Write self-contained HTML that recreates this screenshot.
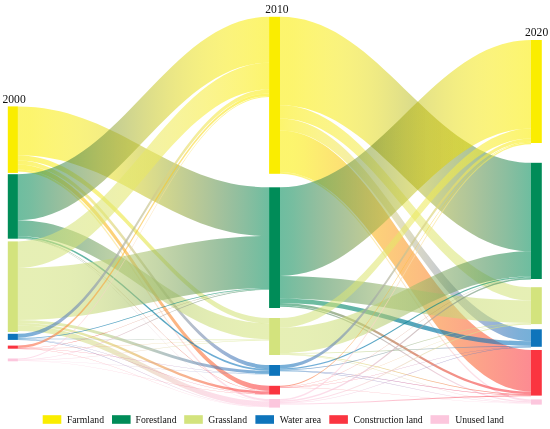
<!DOCTYPE html>
<html lang="en"><head><meta charset="utf-8"><title>Land use transfer Sankey 2000-2010-2020</title>
<style>
html,body{margin:0;padding:0;background:#fff}
body{width:550px;height:429px;overflow:hidden}
svg{display:block}
path.m{mix-blend-mode:multiply}
text.lg{font-size:9.7px}
text{font-family:"Liberation Serif","Times New Roman",serif;font-size:11.6px;fill:#111}
</style></head><body>
<svg width="550" height="429" viewBox="0 0 550 429">
<defs>
<linearGradient id="g1" gradientUnits="userSpaceOnUse" x1="17.9" y1="0" x2="269.1" y2="0"><stop offset="0" stop-color="#faed00" stop-opacity="0.814"/><stop offset="0.05" stop-color="#faed00" stop-opacity="0.814"/><stop offset="0.1" stop-color="#faed0a" stop-opacity="0.815"/><stop offset="0.15" stop-color="#f9ec13" stop-opacity="0.817"/><stop offset="0.2" stop-color="#f7eb1c" stop-opacity="0.824"/><stop offset="0.25" stop-color="#f4e924" stop-opacity="0.834"/><stop offset="0.3" stop-color="#f0e52b" stop-opacity="0.848"/><stop offset="0.35" stop-color="#eae132" stop-opacity="0.863"/><stop offset="0.4" stop-color="#e2db38" stop-opacity="0.878"/><stop offset="0.45" stop-color="#d8d43e" stop-opacity="0.889"/><stop offset="0.5" stop-color="#cdcc43" stop-opacity="0.895"/><stop offset="0.55" stop-color="#c0c448" stop-opacity="0.895"/><stop offset="0.6" stop-color="#b1bb4c" stop-opacity="0.889"/><stop offset="0.65" stop-color="#a0b14f" stop-opacity="0.878"/><stop offset="0.7" stop-color="#8ea752" stop-opacity="0.863"/><stop offset="0.75" stop-color="#7b9f54" stop-opacity="0.848"/><stop offset="0.8" stop-color="#659756" stop-opacity="0.834"/><stop offset="0.85" stop-color="#4e9157" stop-opacity="0.824"/><stop offset="0.9" stop-color="#368e58" stop-opacity="0.817"/><stop offset="0.95" stop-color="#1c8c58" stop-opacity="0.815"/><stop offset="1" stop-color="#008c58" stop-opacity="0.814"/></linearGradient>
<linearGradient id="g2" gradientUnits="userSpaceOnUse" x1="17.9" y1="0" x2="269.1" y2="0"><stop offset="0" stop-color="#faed00" stop-opacity="0.814"/><stop offset="0.05" stop-color="#faed0d" stop-opacity="0.815"/><stop offset="0.1" stop-color="#faed1a" stop-opacity="0.82"/><stop offset="0.15" stop-color="#f9ed25" stop-opacity="0.833"/><stop offset="0.2" stop-color="#f8ec30" stop-opacity="0.853"/><stop offset="0.25" stop-color="#f7ec3b" stop-opacity="0.881"/><stop offset="0.3" stop-color="#f4eb44" stop-opacity="0.912"/><stop offset="0.35" stop-color="#f2eb4d" stop-opacity="0.943"/><stop offset="0.4" stop-color="#efea55" stop-opacity="0.97"/><stop offset="0.45" stop-color="#ece95d" stop-opacity="0.987"/><stop offset="0.5" stop-color="#e8e863" stop-opacity="0.993"/><stop offset="0.55" stop-color="#e4e769" stop-opacity="0.987"/><stop offset="0.6" stop-color="#e1e66e" stop-opacity="0.97"/><stop offset="0.65" stop-color="#dde572" stop-opacity="0.943"/><stop offset="0.7" stop-color="#dae576" stop-opacity="0.912"/><stop offset="0.75" stop-color="#d8e479" stop-opacity="0.881"/><stop offset="0.8" stop-color="#d6e47b" stop-opacity="0.853"/><stop offset="0.85" stop-color="#d4e37c" stop-opacity="0.833"/><stop offset="0.9" stop-color="#d3e37d" stop-opacity="0.82"/><stop offset="0.95" stop-color="#d3e37d" stop-opacity="0.815"/><stop offset="1" stop-color="#d3e37d" stop-opacity="0.814"/></linearGradient>
<linearGradient id="g3" gradientUnits="userSpaceOnUse" x1="17.9" y1="0" x2="269.1" y2="0"><stop offset="0" stop-color="#faed00" stop-opacity="0.814"/><stop offset="0.05" stop-color="#faed14" stop-opacity="0.815"/><stop offset="0.1" stop-color="#f9ec26" stop-opacity="0.82"/><stop offset="0.15" stop-color="#f8eb38" stop-opacity="0.833"/><stop offset="0.2" stop-color="#f5e948" stop-opacity="0.853"/><stop offset="0.25" stop-color="#f1e658" stop-opacity="0.881"/><stop offset="0.3" stop-color="#ece166" stop-opacity="0.912"/><stop offset="0.35" stop-color="#e5db73" stop-opacity="0.943"/><stop offset="0.4" stop-color="#dcd480" stop-opacity="0.97"/><stop offset="0.45" stop-color="#d2cc8b" stop-opacity="0.987"/><stop offset="0.5" stop-color="#c6c394" stop-opacity="0.993"/><stop offset="0.55" stop-color="#b9b99d" stop-opacity="0.987"/><stop offset="0.6" stop-color="#abaea5" stop-opacity="0.97"/><stop offset="0.65" stop-color="#9aa3ab" stop-opacity="0.943"/><stop offset="0.7" stop-color="#8998b0" stop-opacity="0.912"/><stop offset="0.75" stop-color="#758db4" stop-opacity="0.881"/><stop offset="0.8" stop-color="#6183b7" stop-opacity="0.853"/><stop offset="0.85" stop-color="#4b7bb9" stop-opacity="0.833"/><stop offset="0.9" stop-color="#3376ba" stop-opacity="0.82"/><stop offset="0.95" stop-color="#1c74bb" stop-opacity="0.815"/><stop offset="1" stop-color="#0e74bb" stop-opacity="0.814"/></linearGradient>
<linearGradient id="g4" gradientUnits="userSpaceOnUse" x1="17.9" y1="0" x2="269.1" y2="0"><stop offset="0" stop-color="#faed00" stop-opacity="0.814"/><stop offset="0.05" stop-color="#faed00" stop-opacity="0.814"/><stop offset="0.1" stop-color="#fae702" stop-opacity="0.814"/><stop offset="0.15" stop-color="#fadd06" stop-opacity="0.814"/><stop offset="0.2" stop-color="#fad309" stop-opacity="0.814"/><stop offset="0.25" stop-color="#fac90c" stop-opacity="0.814"/><stop offset="0.3" stop-color="#fabf10" stop-opacity="0.814"/><stop offset="0.35" stop-color="#fab513" stop-opacity="0.814"/><stop offset="0.4" stop-color="#faab17" stop-opacity="0.814"/><stop offset="0.45" stop-color="#faa11a" stop-opacity="0.814"/><stop offset="0.5" stop-color="#fa971e" stop-opacity="0.814"/><stop offset="0.55" stop-color="#fa8e21" stop-opacity="0.814"/><stop offset="0.6" stop-color="#fa8424" stop-opacity="0.814"/><stop offset="0.65" stop-color="#fa7a28" stop-opacity="0.814"/><stop offset="0.7" stop-color="#fa702b" stop-opacity="0.814"/><stop offset="0.75" stop-color="#fa662f" stop-opacity="0.814"/><stop offset="0.8" stop-color="#fa5c32" stop-opacity="0.814"/><stop offset="0.85" stop-color="#fa5236" stop-opacity="0.814"/><stop offset="0.9" stop-color="#fa4839" stop-opacity="0.814"/><stop offset="0.95" stop-color="#fa3e3d" stop-opacity="0.814"/><stop offset="1" stop-color="#fa3440" stop-opacity="0.814"/></linearGradient>
<linearGradient id="g5" gradientUnits="userSpaceOnUse" x1="17.9" y1="0" x2="269.1" y2="0"><stop offset="0" stop-color="#faed00" stop-opacity="0.814"/><stop offset="0.05" stop-color="#faed17" stop-opacity="0.815"/><stop offset="0.1" stop-color="#faed2d" stop-opacity="0.82"/><stop offset="0.15" stop-color="#faec42" stop-opacity="0.833"/><stop offset="0.2" stop-color="#faeb56" stop-opacity="0.853"/><stop offset="0.25" stop-color="#faea68" stop-opacity="0.881"/><stop offset="0.3" stop-color="#fae879" stop-opacity="0.912"/><stop offset="0.35" stop-color="#fae588" stop-opacity="0.943"/><stop offset="0.4" stop-color="#fbe297" stop-opacity="0.97"/><stop offset="0.45" stop-color="#fbdfa4" stop-opacity="0.987"/><stop offset="0.5" stop-color="#fbdbaf" stop-opacity="0.993"/><stop offset="0.55" stop-color="#fbd8ba" stop-opacity="0.987"/><stop offset="0.6" stop-color="#fbd4c3" stop-opacity="0.97"/><stop offset="0.65" stop-color="#fcd1ca" stop-opacity="0.943"/><stop offset="0.7" stop-color="#fccdd0" stop-opacity="0.912"/><stop offset="0.75" stop-color="#fccbd5" stop-opacity="0.881"/><stop offset="0.8" stop-color="#fcc9d9" stop-opacity="0.853"/><stop offset="0.85" stop-color="#fcc7db" stop-opacity="0.833"/><stop offset="0.9" stop-color="#fcc6dc" stop-opacity="0.82"/><stop offset="0.95" stop-color="#fcc6dd" stop-opacity="0.815"/><stop offset="1" stop-color="#fcc6dd" stop-opacity="0.814"/></linearGradient>
<linearGradient id="g6" gradientUnits="userSpaceOnUse" x1="17.9" y1="0" x2="269.1" y2="0"><stop offset="0" stop-color="#008c58" stop-opacity="0.814"/><stop offset="0.05" stop-color="#108c58" stop-opacity="0.814"/><stop offset="0.1" stop-color="#2a8d58" stop-opacity="0.816"/><stop offset="0.15" stop-color="#438f57" stop-opacity="0.82"/><stop offset="0.2" stop-color="#5a9457" stop-opacity="0.829"/><stop offset="0.25" stop-color="#6f9a55" stop-opacity="0.84"/><stop offset="0.3" stop-color="#83a254" stop-opacity="0.855"/><stop offset="0.35" stop-color="#96ab51" stop-opacity="0.869"/><stop offset="0.4" stop-color="#a7b44e" stop-opacity="0.882"/><stop offset="0.45" stop-color="#b6be4b" stop-opacity="0.892"/><stop offset="0.5" stop-color="#c4c747" stop-opacity="0.896"/><stop offset="0.55" stop-color="#d0cf42" stop-opacity="0.894"/><stop offset="0.6" stop-color="#dbd63d" stop-opacity="0.886"/><stop offset="0.65" stop-color="#e4dc37" stop-opacity="0.875"/><stop offset="0.7" stop-color="#ebe231" stop-opacity="0.861"/><stop offset="0.75" stop-color="#f1e62a" stop-opacity="0.846"/><stop offset="0.8" stop-color="#f5e923" stop-opacity="0.833"/><stop offset="0.85" stop-color="#f8eb1b" stop-opacity="0.823"/><stop offset="0.9" stop-color="#f9ec12" stop-opacity="0.817"/><stop offset="0.95" stop-color="#faed09" stop-opacity="0.815"/><stop offset="1" stop-color="#faed00" stop-opacity="0.814"/></linearGradient>
<linearGradient id="g7" gradientUnits="userSpaceOnUse" x1="17.9" y1="0" x2="269.1" y2="0"><stop offset="0" stop-color="#008c58" stop-opacity="0.814"/><stop offset="0.05" stop-color="#168c58" stop-opacity="0.814"/><stop offset="0.1" stop-color="#2b8d58" stop-opacity="0.814"/><stop offset="0.15" stop-color="#3f9059" stop-opacity="0.814"/><stop offset="0.2" stop-color="#52945b" stop-opacity="0.814"/><stop offset="0.25" stop-color="#639a5d" stop-opacity="0.814"/><stop offset="0.3" stop-color="#73a160" stop-opacity="0.814"/><stop offset="0.35" stop-color="#82a963" stop-opacity="0.814"/><stop offset="0.4" stop-color="#90b167" stop-opacity="0.814"/><stop offset="0.45" stop-color="#9cba6a" stop-opacity="0.814"/><stop offset="0.5" stop-color="#a7c16e" stop-opacity="0.814"/><stop offset="0.55" stop-color="#b1c871" stop-opacity="0.814"/><stop offset="0.6" stop-color="#bacf74" stop-opacity="0.814"/><stop offset="0.65" stop-color="#c1d476" stop-opacity="0.814"/><stop offset="0.7" stop-color="#c7d978" stop-opacity="0.814"/><stop offset="0.75" stop-color="#cbdd7a" stop-opacity="0.814"/><stop offset="0.8" stop-color="#cfe07b" stop-opacity="0.814"/><stop offset="0.85" stop-color="#d1e17c" stop-opacity="0.814"/><stop offset="0.9" stop-color="#d2e37d" stop-opacity="0.814"/><stop offset="0.95" stop-color="#d3e37d" stop-opacity="0.814"/><stop offset="1" stop-color="#d3e37d" stop-opacity="0.814"/></linearGradient>
<linearGradient id="g8" gradientUnits="userSpaceOnUse" x1="17.9" y1="0" x2="269.1" y2="0"><stop offset="0" stop-color="#008c58" stop-opacity="0.814"/><stop offset="0.05" stop-color="#018c58" stop-opacity="0.815"/><stop offset="0.1" stop-color="#038c5a" stop-opacity="0.82"/><stop offset="0.15" stop-color="#048b5e" stop-opacity="0.833"/><stop offset="0.2" stop-color="#058b65" stop-opacity="0.853"/><stop offset="0.25" stop-color="#078a6d" stop-opacity="0.881"/><stop offset="0.3" stop-color="#088976" stop-opacity="0.912"/><stop offset="0.35" stop-color="#09877f" stop-opacity="0.943"/><stop offset="0.4" stop-color="#0a8588" stop-opacity="0.97"/><stop offset="0.45" stop-color="#0a8391" stop-opacity="0.987"/><stop offset="0.5" stop-color="#0b8199" stop-opacity="0.993"/><stop offset="0.55" stop-color="#0c7fa1" stop-opacity="0.987"/><stop offset="0.6" stop-color="#0c7da7" stop-opacity="0.97"/><stop offset="0.65" stop-color="#0d7bad" stop-opacity="0.943"/><stop offset="0.7" stop-color="#0d79b1" stop-opacity="0.912"/><stop offset="0.75" stop-color="#0d77b5" stop-opacity="0.881"/><stop offset="0.8" stop-color="#0e76b8" stop-opacity="0.853"/><stop offset="0.85" stop-color="#0e75ba" stop-opacity="0.833"/><stop offset="0.9" stop-color="#0e74bb" stop-opacity="0.82"/><stop offset="0.95" stop-color="#0e74bb" stop-opacity="0.815"/><stop offset="1" stop-color="#0e74bb" stop-opacity="0.814"/></linearGradient>
<linearGradient id="g9" gradientUnits="userSpaceOnUse" x1="17.9" y1="0" x2="269.1" y2="0"><stop offset="0" stop-color="#008c58" stop-opacity="0.814"/><stop offset="0.05" stop-color="#1a8c58" stop-opacity="0.815"/><stop offset="0.1" stop-color="#338c58" stop-opacity="0.82"/><stop offset="0.15" stop-color="#4b8b58" stop-opacity="0.833"/><stop offset="0.2" stop-color="#618957" stop-opacity="0.853"/><stop offset="0.25" stop-color="#758756" stop-opacity="0.881"/><stop offset="0.3" stop-color="#898455" stop-opacity="0.912"/><stop offset="0.35" stop-color="#9a8154" stop-opacity="0.943"/><stop offset="0.4" stop-color="#ab7c52" stop-opacity="0.97"/><stop offset="0.45" stop-color="#b97750" stop-opacity="0.987"/><stop offset="0.5" stop-color="#c6714e" stop-opacity="0.993"/><stop offset="0.55" stop-color="#d26a4c" stop-opacity="0.987"/><stop offset="0.6" stop-color="#dc6349" stop-opacity="0.97"/><stop offset="0.65" stop-color="#e55b47" stop-opacity="0.943"/><stop offset="0.7" stop-color="#ec5345" stop-opacity="0.912"/><stop offset="0.75" stop-color="#f14a43" stop-opacity="0.881"/><stop offset="0.8" stop-color="#f54242" stop-opacity="0.853"/><stop offset="0.85" stop-color="#f83b41" stop-opacity="0.833"/><stop offset="0.9" stop-color="#f93740" stop-opacity="0.82"/><stop offset="0.95" stop-color="#fa3440" stop-opacity="0.815"/><stop offset="1" stop-color="#fa3440" stop-opacity="0.814"/></linearGradient>
<linearGradient id="g10" gradientUnits="userSpaceOnUse" x1="17.9" y1="0" x2="269.1" y2="0"><stop offset="0" stop-color="#008c58" stop-opacity="0.814"/><stop offset="0.05" stop-color="#1a8c59" stop-opacity="0.815"/><stop offset="0.1" stop-color="#348d5c" stop-opacity="0.82"/><stop offset="0.15" stop-color="#4b8e62" stop-opacity="0.833"/><stop offset="0.2" stop-color="#62916c" stop-opacity="0.853"/><stop offset="0.25" stop-color="#769478" stop-opacity="0.881"/><stop offset="0.3" stop-color="#8a9985" stop-opacity="0.912"/><stop offset="0.35" stop-color="#9c9e91" stop-opacity="0.943"/><stop offset="0.4" stop-color="#aca39d" stop-opacity="0.97"/><stop offset="0.45" stop-color="#bba9a9" stop-opacity="0.987"/><stop offset="0.5" stop-color="#c8aeb3" stop-opacity="0.993"/><stop offset="0.55" stop-color="#d4b3bc" stop-opacity="0.987"/><stop offset="0.6" stop-color="#deb7c4" stop-opacity="0.97"/><stop offset="0.65" stop-color="#e6bbcb" stop-opacity="0.943"/><stop offset="0.7" stop-color="#edbfd1" stop-opacity="0.912"/><stop offset="0.75" stop-color="#f3c1d6" stop-opacity="0.881"/><stop offset="0.8" stop-color="#f7c3d9" stop-opacity="0.853"/><stop offset="0.85" stop-color="#fac5db" stop-opacity="0.833"/><stop offset="0.9" stop-color="#fbc6dc" stop-opacity="0.82"/><stop offset="0.95" stop-color="#fcc6dd" stop-opacity="0.815"/><stop offset="1" stop-color="#fcc6dd" stop-opacity="0.814"/></linearGradient>
<linearGradient id="g11" gradientUnits="userSpaceOnUse" x1="17.9" y1="0" x2="269.1" y2="0"><stop offset="0" stop-color="#d3e37d" stop-opacity="0.814"/><stop offset="0.05" stop-color="#d3e37d" stop-opacity="0.814"/><stop offset="0.1" stop-color="#d3e37d" stop-opacity="0.814"/><stop offset="0.15" stop-color="#d4e37c" stop-opacity="0.814"/><stop offset="0.2" stop-color="#d6e47b" stop-opacity="0.814"/><stop offset="0.25" stop-color="#d8e479" stop-opacity="0.814"/><stop offset="0.3" stop-color="#dae576" stop-opacity="0.814"/><stop offset="0.35" stop-color="#dde572" stop-opacity="0.814"/><stop offset="0.4" stop-color="#e1e66e" stop-opacity="0.814"/><stop offset="0.45" stop-color="#e4e769" stop-opacity="0.814"/><stop offset="0.5" stop-color="#e8e863" stop-opacity="0.814"/><stop offset="0.55" stop-color="#ece95d" stop-opacity="0.814"/><stop offset="0.6" stop-color="#efea55" stop-opacity="0.814"/><stop offset="0.65" stop-color="#f2eb4d" stop-opacity="0.814"/><stop offset="0.7" stop-color="#f4eb44" stop-opacity="0.814"/><stop offset="0.75" stop-color="#f7ec3b" stop-opacity="0.814"/><stop offset="0.8" stop-color="#f8ec30" stop-opacity="0.814"/><stop offset="0.85" stop-color="#f9ed25" stop-opacity="0.814"/><stop offset="0.9" stop-color="#faed1a" stop-opacity="0.814"/><stop offset="0.95" stop-color="#faed0d" stop-opacity="0.814"/><stop offset="1" stop-color="#faed00" stop-opacity="0.814"/></linearGradient>
<linearGradient id="g12" gradientUnits="userSpaceOnUse" x1="17.9" y1="0" x2="269.1" y2="0"><stop offset="0" stop-color="#d3e37d" stop-opacity="0.814"/><stop offset="0.05" stop-color="#d3e37d" stop-opacity="0.814"/><stop offset="0.1" stop-color="#d2e37d" stop-opacity="0.814"/><stop offset="0.15" stop-color="#d1e17c" stop-opacity="0.814"/><stop offset="0.2" stop-color="#cfe07b" stop-opacity="0.814"/><stop offset="0.25" stop-color="#cbdd7a" stop-opacity="0.814"/><stop offset="0.3" stop-color="#c7d978" stop-opacity="0.814"/><stop offset="0.35" stop-color="#c1d476" stop-opacity="0.814"/><stop offset="0.4" stop-color="#bacf74" stop-opacity="0.814"/><stop offset="0.45" stop-color="#b1c871" stop-opacity="0.814"/><stop offset="0.5" stop-color="#a7c16e" stop-opacity="0.814"/><stop offset="0.55" stop-color="#9cba6a" stop-opacity="0.814"/><stop offset="0.6" stop-color="#90b167" stop-opacity="0.814"/><stop offset="0.65" stop-color="#82a963" stop-opacity="0.814"/><stop offset="0.7" stop-color="#73a160" stop-opacity="0.814"/><stop offset="0.75" stop-color="#639a5d" stop-opacity="0.814"/><stop offset="0.8" stop-color="#52945b" stop-opacity="0.814"/><stop offset="0.85" stop-color="#3f9059" stop-opacity="0.814"/><stop offset="0.9" stop-color="#2b8d58" stop-opacity="0.814"/><stop offset="0.95" stop-color="#168c58" stop-opacity="0.814"/><stop offset="1" stop-color="#008c58" stop-opacity="0.814"/></linearGradient>
<linearGradient id="g13" gradientUnits="userSpaceOnUse" x1="17.9" y1="0" x2="269.1" y2="0"><stop offset="0" stop-color="#d3e37d" stop-opacity="0.814"/><stop offset="0.05" stop-color="#d3e37d" stop-opacity="0.815"/><stop offset="0.1" stop-color="#d2e27e" stop-opacity="0.82"/><stop offset="0.15" stop-color="#d1e180" stop-opacity="0.833"/><stop offset="0.2" stop-color="#cfdf82" stop-opacity="0.853"/><stop offset="0.25" stop-color="#cbdc86" stop-opacity="0.881"/><stop offset="0.3" stop-color="#c7d88b" stop-opacity="0.912"/><stop offset="0.35" stop-color="#c1d291" stop-opacity="0.943"/><stop offset="0.4" stop-color="#bacc97" stop-opacity="0.97"/><stop offset="0.45" stop-color="#b1c49c" stop-opacity="0.987"/><stop offset="0.5" stop-color="#a7bca2" stop-opacity="0.993"/><stop offset="0.55" stop-color="#9cb2a7" stop-opacity="0.987"/><stop offset="0.6" stop-color="#90a8ac" stop-opacity="0.97"/><stop offset="0.65" stop-color="#829eb0" stop-opacity="0.943"/><stop offset="0.7" stop-color="#7394b4" stop-opacity="0.912"/><stop offset="0.75" stop-color="#638ab6" stop-opacity="0.881"/><stop offset="0.8" stop-color="#5281b8" stop-opacity="0.853"/><stop offset="0.85" stop-color="#3f7aba" stop-opacity="0.833"/><stop offset="0.9" stop-color="#2c76bb" stop-opacity="0.82"/><stop offset="0.95" stop-color="#1874bb" stop-opacity="0.815"/><stop offset="1" stop-color="#0e74bb" stop-opacity="0.814"/></linearGradient>
<linearGradient id="g14" gradientUnits="userSpaceOnUse" x1="17.9" y1="0" x2="269.1" y2="0"><stop offset="0" stop-color="#d3e37d" stop-opacity="0.814"/><stop offset="0.05" stop-color="#d3e37d" stop-opacity="0.815"/><stop offset="0.1" stop-color="#d3e27d" stop-opacity="0.82"/><stop offset="0.15" stop-color="#d4e17c" stop-opacity="0.833"/><stop offset="0.2" stop-color="#d6df7b" stop-opacity="0.853"/><stop offset="0.25" stop-color="#d8db79" stop-opacity="0.881"/><stop offset="0.3" stop-color="#dad677" stop-opacity="0.912"/><stop offset="0.35" stop-color="#ddd074" stop-opacity="0.943"/><stop offset="0.4" stop-color="#e1c870" stop-opacity="0.97"/><stop offset="0.45" stop-color="#e4bf6c" stop-opacity="0.987"/><stop offset="0.5" stop-color="#e8b567" stop-opacity="0.993"/><stop offset="0.55" stop-color="#eca962" stop-opacity="0.987"/><stop offset="0.6" stop-color="#ef9c5d" stop-opacity="0.97"/><stop offset="0.65" stop-color="#f28e57" stop-opacity="0.943"/><stop offset="0.7" stop-color="#f47f51" stop-opacity="0.912"/><stop offset="0.75" stop-color="#f76e4c" stop-opacity="0.881"/><stop offset="0.8" stop-color="#f85d47" stop-opacity="0.853"/><stop offset="0.85" stop-color="#f94d43" stop-opacity="0.833"/><stop offset="0.9" stop-color="#fa3e41" stop-opacity="0.82"/><stop offset="0.95" stop-color="#fa3640" stop-opacity="0.815"/><stop offset="1" stop-color="#fa3440" stop-opacity="0.814"/></linearGradient>
<linearGradient id="g15" gradientUnits="userSpaceOnUse" x1="17.9" y1="0" x2="269.1" y2="0"><stop offset="0" stop-color="#d3e37d" stop-opacity="0.814"/><stop offset="0.05" stop-color="#d3e37d" stop-opacity="0.815"/><stop offset="0.1" stop-color="#d3e37f" stop-opacity="0.82"/><stop offset="0.15" stop-color="#d4e282" stop-opacity="0.833"/><stop offset="0.2" stop-color="#d6e287" stop-opacity="0.853"/><stop offset="0.25" stop-color="#d8e08e" stop-opacity="0.881"/><stop offset="0.3" stop-color="#dbdf96" stop-opacity="0.912"/><stop offset="0.35" stop-color="#dedd9f" stop-opacity="0.943"/><stop offset="0.4" stop-color="#e2dba8" stop-opacity="0.97"/><stop offset="0.45" stop-color="#e5d8b1" stop-opacity="0.987"/><stop offset="0.5" stop-color="#e9d5b9" stop-opacity="0.993"/><stop offset="0.55" stop-color="#edd3c1" stop-opacity="0.987"/><stop offset="0.6" stop-color="#f0d0c8" stop-opacity="0.97"/><stop offset="0.65" stop-color="#f4cece" stop-opacity="0.943"/><stop offset="0.7" stop-color="#f6cbd3" stop-opacity="0.912"/><stop offset="0.75" stop-color="#f8c9d7" stop-opacity="0.881"/><stop offset="0.8" stop-color="#fac8d9" stop-opacity="0.853"/><stop offset="0.85" stop-color="#fbc7db" stop-opacity="0.833"/><stop offset="0.9" stop-color="#fcc6dc" stop-opacity="0.82"/><stop offset="0.95" stop-color="#fcc6dd" stop-opacity="0.815"/><stop offset="1" stop-color="#fcc6dd" stop-opacity="0.814"/></linearGradient>
<linearGradient id="g16" gradientUnits="userSpaceOnUse" x1="17.9" y1="0" x2="269.1" y2="0"><stop offset="0" stop-color="#0e74bb" stop-opacity="0.814"/><stop offset="0.05" stop-color="#1c74bb" stop-opacity="0.815"/><stop offset="0.1" stop-color="#3376ba" stop-opacity="0.82"/><stop offset="0.15" stop-color="#4b7bb9" stop-opacity="0.833"/><stop offset="0.2" stop-color="#6183b7" stop-opacity="0.853"/><stop offset="0.25" stop-color="#758db4" stop-opacity="0.881"/><stop offset="0.3" stop-color="#8998b0" stop-opacity="0.912"/><stop offset="0.35" stop-color="#9aa3ab" stop-opacity="0.943"/><stop offset="0.4" stop-color="#abaea5" stop-opacity="0.97"/><stop offset="0.45" stop-color="#b9b99d" stop-opacity="0.987"/><stop offset="0.5" stop-color="#c6c394" stop-opacity="0.993"/><stop offset="0.55" stop-color="#d2cc8b" stop-opacity="0.987"/><stop offset="0.6" stop-color="#dcd480" stop-opacity="0.97"/><stop offset="0.65" stop-color="#e5db73" stop-opacity="0.943"/><stop offset="0.7" stop-color="#ece166" stop-opacity="0.912"/><stop offset="0.75" stop-color="#f1e658" stop-opacity="0.881"/><stop offset="0.8" stop-color="#f5e948" stop-opacity="0.853"/><stop offset="0.85" stop-color="#f8eb38" stop-opacity="0.833"/><stop offset="0.9" stop-color="#f9ec26" stop-opacity="0.82"/><stop offset="0.95" stop-color="#faed14" stop-opacity="0.815"/><stop offset="1" stop-color="#faed00" stop-opacity="0.814"/></linearGradient>
<linearGradient id="g17" gradientUnits="userSpaceOnUse" x1="17.9" y1="0" x2="269.1" y2="0"><stop offset="0" stop-color="#0e74bb" stop-opacity="0.814"/><stop offset="0.05" stop-color="#0e74bb" stop-opacity="0.815"/><stop offset="0.1" stop-color="#0e74bb" stop-opacity="0.82"/><stop offset="0.15" stop-color="#0e75ba" stop-opacity="0.833"/><stop offset="0.2" stop-color="#0e76b8" stop-opacity="0.853"/><stop offset="0.25" stop-color="#0d77b5" stop-opacity="0.881"/><stop offset="0.3" stop-color="#0d79b1" stop-opacity="0.912"/><stop offset="0.35" stop-color="#0d7bad" stop-opacity="0.943"/><stop offset="0.4" stop-color="#0c7da7" stop-opacity="0.97"/><stop offset="0.45" stop-color="#0c7fa1" stop-opacity="0.987"/><stop offset="0.5" stop-color="#0b8199" stop-opacity="0.993"/><stop offset="0.55" stop-color="#0a8391" stop-opacity="0.987"/><stop offset="0.6" stop-color="#0a8588" stop-opacity="0.97"/><stop offset="0.65" stop-color="#09877f" stop-opacity="0.943"/><stop offset="0.7" stop-color="#088976" stop-opacity="0.912"/><stop offset="0.75" stop-color="#078a6d" stop-opacity="0.881"/><stop offset="0.8" stop-color="#058b65" stop-opacity="0.853"/><stop offset="0.85" stop-color="#048b5e" stop-opacity="0.833"/><stop offset="0.9" stop-color="#038c5a" stop-opacity="0.82"/><stop offset="0.95" stop-color="#018c58" stop-opacity="0.815"/><stop offset="1" stop-color="#008c58" stop-opacity="0.814"/></linearGradient>
<linearGradient id="g18" gradientUnits="userSpaceOnUse" x1="17.9" y1="0" x2="269.1" y2="0"><stop offset="0" stop-color="#0e74bb" stop-opacity="0.814"/><stop offset="0.05" stop-color="#1874bb" stop-opacity="0.815"/><stop offset="0.1" stop-color="#2c76bb" stop-opacity="0.82"/><stop offset="0.15" stop-color="#3f7aba" stop-opacity="0.833"/><stop offset="0.2" stop-color="#5281b8" stop-opacity="0.853"/><stop offset="0.25" stop-color="#638ab6" stop-opacity="0.881"/><stop offset="0.3" stop-color="#7394b4" stop-opacity="0.912"/><stop offset="0.35" stop-color="#829eb0" stop-opacity="0.943"/><stop offset="0.4" stop-color="#90a8ac" stop-opacity="0.97"/><stop offset="0.45" stop-color="#9cb2a7" stop-opacity="0.987"/><stop offset="0.5" stop-color="#a7bca2" stop-opacity="0.993"/><stop offset="0.55" stop-color="#b1c49c" stop-opacity="0.987"/><stop offset="0.6" stop-color="#bacc97" stop-opacity="0.97"/><stop offset="0.65" stop-color="#c1d291" stop-opacity="0.943"/><stop offset="0.7" stop-color="#c7d88b" stop-opacity="0.912"/><stop offset="0.75" stop-color="#cbdc86" stop-opacity="0.881"/><stop offset="0.8" stop-color="#cfdf82" stop-opacity="0.853"/><stop offset="0.85" stop-color="#d1e180" stop-opacity="0.833"/><stop offset="0.9" stop-color="#d2e27e" stop-opacity="0.82"/><stop offset="0.95" stop-color="#d3e37d" stop-opacity="0.815"/><stop offset="1" stop-color="#d3e37d" stop-opacity="0.814"/></linearGradient>
<linearGradient id="g19" gradientUnits="userSpaceOnUse" x1="17.9" y1="0" x2="269.1" y2="0"><stop offset="0" stop-color="#0e74bb" stop-opacity="0.814"/><stop offset="0.05" stop-color="#1c74bb" stop-opacity="0.815"/><stop offset="0.1" stop-color="#3374ba" stop-opacity="0.82"/><stop offset="0.15" stop-color="#4b73b9" stop-opacity="0.833"/><stop offset="0.2" stop-color="#6172b7" stop-opacity="0.853"/><stop offset="0.25" stop-color="#7570b5" stop-opacity="0.881"/><stop offset="0.3" stop-color="#896eb1" stop-opacity="0.912"/><stop offset="0.35" stop-color="#9a6bac" stop-opacity="0.943"/><stop offset="0.4" stop-color="#ab68a6" stop-opacity="0.97"/><stop offset="0.45" stop-color="#b9639f" stop-opacity="0.987"/><stop offset="0.5" stop-color="#c65f96" stop-opacity="0.993"/><stop offset="0.55" stop-color="#d25a8d" stop-opacity="0.987"/><stop offset="0.6" stop-color="#dc5483" stop-opacity="0.97"/><stop offset="0.65" stop-color="#e54e78" stop-opacity="0.943"/><stop offset="0.7" stop-color="#ec486d" stop-opacity="0.912"/><stop offset="0.75" stop-color="#f14261" stop-opacity="0.881"/><stop offset="0.8" stop-color="#f53d56" stop-opacity="0.853"/><stop offset="0.85" stop-color="#f8384b" stop-opacity="0.833"/><stop offset="0.9" stop-color="#f93544" stop-opacity="0.82"/><stop offset="0.95" stop-color="#fa3441" stop-opacity="0.815"/><stop offset="1" stop-color="#fa3440" stop-opacity="0.814"/></linearGradient>
<linearGradient id="g20" gradientUnits="userSpaceOnUse" x1="17.9" y1="0" x2="269.1" y2="0"><stop offset="0" stop-color="#0e74bb" stop-opacity="0.814"/><stop offset="0.05" stop-color="#1c74bb" stop-opacity="0.815"/><stop offset="0.1" stop-color="#3475bb" stop-opacity="0.82"/><stop offset="0.15" stop-color="#4b78bc" stop-opacity="0.833"/><stop offset="0.2" stop-color="#627cbd" stop-opacity="0.853"/><stop offset="0.25" stop-color="#7682bf" stop-opacity="0.881"/><stop offset="0.3" stop-color="#8a89c1" stop-opacity="0.912"/><stop offset="0.35" stop-color="#9c91c4" stop-opacity="0.943"/><stop offset="0.4" stop-color="#ac98c7" stop-opacity="0.97"/><stop offset="0.45" stop-color="#bba0ca" stop-opacity="0.987"/><stop offset="0.5" stop-color="#c8a7cd" stop-opacity="0.993"/><stop offset="0.55" stop-color="#d4aed0" stop-opacity="0.987"/><stop offset="0.6" stop-color="#deb4d3" stop-opacity="0.97"/><stop offset="0.65" stop-color="#e6b9d6" stop-opacity="0.943"/><stop offset="0.7" stop-color="#edbdd8" stop-opacity="0.912"/><stop offset="0.75" stop-color="#f3c0da" stop-opacity="0.881"/><stop offset="0.8" stop-color="#f7c3db" stop-opacity="0.853"/><stop offset="0.85" stop-color="#fac5dc" stop-opacity="0.833"/><stop offset="0.9" stop-color="#fbc6dd" stop-opacity="0.82"/><stop offset="0.95" stop-color="#fcc6dd" stop-opacity="0.815"/><stop offset="1" stop-color="#fcc6dd" stop-opacity="0.814"/></linearGradient>
<linearGradient id="g21" gradientUnits="userSpaceOnUse" x1="17.9" y1="0" x2="269.1" y2="0"><stop offset="0" stop-color="#fa4e3e" stop-opacity="0.814"/><stop offset="0.05" stop-color="#fa603d" stop-opacity="0.814"/><stop offset="0.1" stop-color="#fa6f3b" stop-opacity="0.814"/><stop offset="0.15" stop-color="#fa7c39" stop-opacity="0.814"/><stop offset="0.2" stop-color="#fa8738" stop-opacity="0.814"/><stop offset="0.25" stop-color="#fa9136" stop-opacity="0.814"/><stop offset="0.3" stop-color="#fa9b34" stop-opacity="0.814"/><stop offset="0.35" stop-color="#faa332" stop-opacity="0.814"/><stop offset="0.4" stop-color="#faac30" stop-opacity="0.814"/><stop offset="0.45" stop-color="#fab42e" stop-opacity="0.814"/><stop offset="0.5" stop-color="#fabb2b" stop-opacity="0.814"/><stop offset="0.55" stop-color="#fac229" stop-opacity="0.814"/><stop offset="0.6" stop-color="#fac926" stop-opacity="0.814"/><stop offset="0.65" stop-color="#facf23" stop-opacity="0.814"/><stop offset="0.7" stop-color="#fad620" stop-opacity="0.814"/><stop offset="0.75" stop-color="#fadc1c" stop-opacity="0.814"/><stop offset="0.8" stop-color="#fae217" stop-opacity="0.814"/><stop offset="0.85" stop-color="#fae711" stop-opacity="0.814"/><stop offset="0.9" stop-color="#faed00" stop-opacity="0.814"/><stop offset="0.95" stop-color="#faed00" stop-opacity="0.814"/><stop offset="1" stop-color="#faed00" stop-opacity="0.814"/></linearGradient>
<linearGradient id="g22" gradientUnits="userSpaceOnUse" x1="17.9" y1="0" x2="269.1" y2="0"><stop offset="0" stop-color="#fa3440" stop-opacity="0.814"/><stop offset="0.05" stop-color="#fa3440" stop-opacity="0.815"/><stop offset="0.1" stop-color="#f93740" stop-opacity="0.82"/><stop offset="0.15" stop-color="#f83b41" stop-opacity="0.833"/><stop offset="0.2" stop-color="#f54242" stop-opacity="0.853"/><stop offset="0.25" stop-color="#f14a43" stop-opacity="0.881"/><stop offset="0.3" stop-color="#ec5345" stop-opacity="0.912"/><stop offset="0.35" stop-color="#e55b47" stop-opacity="0.943"/><stop offset="0.4" stop-color="#dc6349" stop-opacity="0.97"/><stop offset="0.45" stop-color="#d26a4c" stop-opacity="0.987"/><stop offset="0.5" stop-color="#c6714e" stop-opacity="0.993"/><stop offset="0.55" stop-color="#b97750" stop-opacity="0.987"/><stop offset="0.6" stop-color="#ab7c52" stop-opacity="0.97"/><stop offset="0.65" stop-color="#9a8154" stop-opacity="0.943"/><stop offset="0.7" stop-color="#898455" stop-opacity="0.912"/><stop offset="0.75" stop-color="#758756" stop-opacity="0.881"/><stop offset="0.8" stop-color="#618957" stop-opacity="0.853"/><stop offset="0.85" stop-color="#4b8b58" stop-opacity="0.833"/><stop offset="0.9" stop-color="#338c58" stop-opacity="0.82"/><stop offset="0.95" stop-color="#1a8c58" stop-opacity="0.815"/><stop offset="1" stop-color="#008c58" stop-opacity="0.814"/></linearGradient>
<linearGradient id="g23" gradientUnits="userSpaceOnUse" x1="17.9" y1="0" x2="269.1" y2="0"><stop offset="0" stop-color="#fa3440" stop-opacity="0.814"/><stop offset="0.05" stop-color="#fa3640" stop-opacity="0.815"/><stop offset="0.1" stop-color="#fa3e41" stop-opacity="0.82"/><stop offset="0.15" stop-color="#f94d43" stop-opacity="0.833"/><stop offset="0.2" stop-color="#f85d47" stop-opacity="0.853"/><stop offset="0.25" stop-color="#f76e4c" stop-opacity="0.881"/><stop offset="0.3" stop-color="#f47f51" stop-opacity="0.912"/><stop offset="0.35" stop-color="#f28e57" stop-opacity="0.943"/><stop offset="0.4" stop-color="#ef9c5d" stop-opacity="0.97"/><stop offset="0.45" stop-color="#eca962" stop-opacity="0.987"/><stop offset="0.5" stop-color="#e8b567" stop-opacity="0.993"/><stop offset="0.55" stop-color="#e4bf6c" stop-opacity="0.987"/><stop offset="0.6" stop-color="#e1c870" stop-opacity="0.97"/><stop offset="0.65" stop-color="#ddd074" stop-opacity="0.943"/><stop offset="0.7" stop-color="#dad677" stop-opacity="0.912"/><stop offset="0.75" stop-color="#d8db79" stop-opacity="0.881"/><stop offset="0.8" stop-color="#d6df7b" stop-opacity="0.853"/><stop offset="0.85" stop-color="#d4e17c" stop-opacity="0.833"/><stop offset="0.9" stop-color="#d3e27d" stop-opacity="0.82"/><stop offset="0.95" stop-color="#d3e37d" stop-opacity="0.815"/><stop offset="1" stop-color="#d3e37d" stop-opacity="0.814"/></linearGradient>
<linearGradient id="g24" gradientUnits="userSpaceOnUse" x1="17.9" y1="0" x2="269.1" y2="0"><stop offset="0" stop-color="#fa3440" stop-opacity="0.814"/><stop offset="0.05" stop-color="#fa3441" stop-opacity="0.815"/><stop offset="0.1" stop-color="#f93544" stop-opacity="0.82"/><stop offset="0.15" stop-color="#f8384b" stop-opacity="0.833"/><stop offset="0.2" stop-color="#f53d56" stop-opacity="0.853"/><stop offset="0.25" stop-color="#f14261" stop-opacity="0.881"/><stop offset="0.3" stop-color="#ec486d" stop-opacity="0.912"/><stop offset="0.35" stop-color="#e54e78" stop-opacity="0.943"/><stop offset="0.4" stop-color="#dc5483" stop-opacity="0.97"/><stop offset="0.45" stop-color="#d25a8d" stop-opacity="0.987"/><stop offset="0.5" stop-color="#c65f96" stop-opacity="0.993"/><stop offset="0.55" stop-color="#b9639f" stop-opacity="0.987"/><stop offset="0.6" stop-color="#ab68a6" stop-opacity="0.97"/><stop offset="0.65" stop-color="#9a6bac" stop-opacity="0.943"/><stop offset="0.7" stop-color="#896eb1" stop-opacity="0.912"/><stop offset="0.75" stop-color="#7570b5" stop-opacity="0.881"/><stop offset="0.8" stop-color="#6172b7" stop-opacity="0.853"/><stop offset="0.85" stop-color="#4b73b9" stop-opacity="0.833"/><stop offset="0.9" stop-color="#3374ba" stop-opacity="0.82"/><stop offset="0.95" stop-color="#1c74bb" stop-opacity="0.815"/><stop offset="1" stop-color="#0e74bb" stop-opacity="0.814"/></linearGradient>
<linearGradient id="g25" gradientUnits="userSpaceOnUse" x1="17.9" y1="0" x2="269.1" y2="0"><stop offset="0" stop-color="#fa3440" stop-opacity="0.814"/><stop offset="0.05" stop-color="#fa3541" stop-opacity="0.815"/><stop offset="0.1" stop-color="#fa3b47" stop-opacity="0.82"/><stop offset="0.15" stop-color="#fa4652" stop-opacity="0.833"/><stop offset="0.2" stop-color="#fa5360" stop-opacity="0.853"/><stop offset="0.25" stop-color="#fa626f" stop-opacity="0.881"/><stop offset="0.3" stop-color="#fa6f7e" stop-opacity="0.912"/><stop offset="0.35" stop-color="#fa7d8c" stop-opacity="0.943"/><stop offset="0.4" stop-color="#fb8999" stop-opacity="0.97"/><stop offset="0.45" stop-color="#fb94a6" stop-opacity="0.987"/><stop offset="0.5" stop-color="#fb9eb1" stop-opacity="0.993"/><stop offset="0.55" stop-color="#fba7bb" stop-opacity="0.987"/><stop offset="0.6" stop-color="#fbafc3" stop-opacity="0.97"/><stop offset="0.65" stop-color="#fcb5cb" stop-opacity="0.943"/><stop offset="0.7" stop-color="#fcbbd1" stop-opacity="0.912"/><stop offset="0.75" stop-color="#fcbfd5" stop-opacity="0.881"/><stop offset="0.8" stop-color="#fcc2d9" stop-opacity="0.853"/><stop offset="0.85" stop-color="#fcc4db" stop-opacity="0.833"/><stop offset="0.9" stop-color="#fcc5dc" stop-opacity="0.82"/><stop offset="0.95" stop-color="#fcc6dd" stop-opacity="0.815"/><stop offset="1" stop-color="#fcc6dd" stop-opacity="0.814"/></linearGradient>
<linearGradient id="g26" gradientUnits="userSpaceOnUse" x1="17.9" y1="0" x2="269.1" y2="0"><stop offset="0" stop-color="#fcc6dd" stop-opacity="0.814"/><stop offset="0.05" stop-color="#fcc6dd" stop-opacity="0.815"/><stop offset="0.1" stop-color="#fcc6dc" stop-opacity="0.82"/><stop offset="0.15" stop-color="#fcc7db" stop-opacity="0.833"/><stop offset="0.2" stop-color="#fcc9d9" stop-opacity="0.853"/><stop offset="0.25" stop-color="#fccbd5" stop-opacity="0.881"/><stop offset="0.3" stop-color="#fccdd0" stop-opacity="0.912"/><stop offset="0.35" stop-color="#fcd1ca" stop-opacity="0.943"/><stop offset="0.4" stop-color="#fbd4c3" stop-opacity="0.97"/><stop offset="0.45" stop-color="#fbd8ba" stop-opacity="0.987"/><stop offset="0.5" stop-color="#fbdbaf" stop-opacity="0.993"/><stop offset="0.55" stop-color="#fbdfa4" stop-opacity="0.987"/><stop offset="0.6" stop-color="#fbe297" stop-opacity="0.97"/><stop offset="0.65" stop-color="#fae588" stop-opacity="0.943"/><stop offset="0.7" stop-color="#fae879" stop-opacity="0.912"/><stop offset="0.75" stop-color="#faea68" stop-opacity="0.881"/><stop offset="0.8" stop-color="#faeb56" stop-opacity="0.853"/><stop offset="0.85" stop-color="#faec42" stop-opacity="0.833"/><stop offset="0.9" stop-color="#faed2d" stop-opacity="0.82"/><stop offset="0.95" stop-color="#faed17" stop-opacity="0.815"/><stop offset="1" stop-color="#faed00" stop-opacity="0.814"/></linearGradient>
<linearGradient id="g27" gradientUnits="userSpaceOnUse" x1="17.9" y1="0" x2="269.1" y2="0"><stop offset="0" stop-color="#fcc6dd" stop-opacity="0.814"/><stop offset="0.05" stop-color="#fcc6dd" stop-opacity="0.815"/><stop offset="0.1" stop-color="#fbc6dc" stop-opacity="0.82"/><stop offset="0.15" stop-color="#fac5db" stop-opacity="0.833"/><stop offset="0.2" stop-color="#f7c3d9" stop-opacity="0.853"/><stop offset="0.25" stop-color="#f3c1d6" stop-opacity="0.881"/><stop offset="0.3" stop-color="#edbfd1" stop-opacity="0.912"/><stop offset="0.35" stop-color="#e6bbcb" stop-opacity="0.943"/><stop offset="0.4" stop-color="#deb7c4" stop-opacity="0.97"/><stop offset="0.45" stop-color="#d4b3bc" stop-opacity="0.987"/><stop offset="0.5" stop-color="#c8aeb3" stop-opacity="0.993"/><stop offset="0.55" stop-color="#bba9a9" stop-opacity="0.987"/><stop offset="0.6" stop-color="#aca39d" stop-opacity="0.97"/><stop offset="0.65" stop-color="#9c9e91" stop-opacity="0.943"/><stop offset="0.7" stop-color="#8a9985" stop-opacity="0.912"/><stop offset="0.75" stop-color="#769478" stop-opacity="0.881"/><stop offset="0.8" stop-color="#62916c" stop-opacity="0.853"/><stop offset="0.85" stop-color="#4b8e62" stop-opacity="0.833"/><stop offset="0.9" stop-color="#348d5c" stop-opacity="0.82"/><stop offset="0.95" stop-color="#1a8c59" stop-opacity="0.815"/><stop offset="1" stop-color="#008c58" stop-opacity="0.814"/></linearGradient>
<linearGradient id="g28" gradientUnits="userSpaceOnUse" x1="17.9" y1="0" x2="269.1" y2="0"><stop offset="0" stop-color="#fcc6dd" stop-opacity="0.814"/><stop offset="0.05" stop-color="#fcc6dd" stop-opacity="0.815"/><stop offset="0.1" stop-color="#fcc6dc" stop-opacity="0.82"/><stop offset="0.15" stop-color="#fbc7db" stop-opacity="0.833"/><stop offset="0.2" stop-color="#fac8d9" stop-opacity="0.853"/><stop offset="0.25" stop-color="#f8c9d7" stop-opacity="0.881"/><stop offset="0.3" stop-color="#f6cbd3" stop-opacity="0.912"/><stop offset="0.35" stop-color="#f4cece" stop-opacity="0.943"/><stop offset="0.4" stop-color="#f0d0c8" stop-opacity="0.97"/><stop offset="0.45" stop-color="#edd3c1" stop-opacity="0.987"/><stop offset="0.5" stop-color="#e9d5b9" stop-opacity="0.993"/><stop offset="0.55" stop-color="#e5d8b1" stop-opacity="0.987"/><stop offset="0.6" stop-color="#e2dba8" stop-opacity="0.97"/><stop offset="0.65" stop-color="#dedd9f" stop-opacity="0.943"/><stop offset="0.7" stop-color="#dbdf96" stop-opacity="0.912"/><stop offset="0.75" stop-color="#d8e08e" stop-opacity="0.881"/><stop offset="0.8" stop-color="#d6e287" stop-opacity="0.853"/><stop offset="0.85" stop-color="#d4e282" stop-opacity="0.833"/><stop offset="0.9" stop-color="#d3e37f" stop-opacity="0.82"/><stop offset="0.95" stop-color="#d3e37d" stop-opacity="0.815"/><stop offset="1" stop-color="#d3e37d" stop-opacity="0.814"/></linearGradient>
<linearGradient id="g29" gradientUnits="userSpaceOnUse" x1="17.9" y1="0" x2="269.1" y2="0"><stop offset="0" stop-color="#fcc6dd" stop-opacity="0.814"/><stop offset="0.05" stop-color="#fcc6dd" stop-opacity="0.815"/><stop offset="0.1" stop-color="#fbc6dd" stop-opacity="0.82"/><stop offset="0.15" stop-color="#fac5dc" stop-opacity="0.833"/><stop offset="0.2" stop-color="#f7c3db" stop-opacity="0.853"/><stop offset="0.25" stop-color="#f3c0da" stop-opacity="0.881"/><stop offset="0.3" stop-color="#edbdd8" stop-opacity="0.912"/><stop offset="0.35" stop-color="#e6b9d6" stop-opacity="0.943"/><stop offset="0.4" stop-color="#deb4d3" stop-opacity="0.97"/><stop offset="0.45" stop-color="#d4aed0" stop-opacity="0.987"/><stop offset="0.5" stop-color="#c8a7cd" stop-opacity="0.993"/><stop offset="0.55" stop-color="#bba0ca" stop-opacity="0.987"/><stop offset="0.6" stop-color="#ac98c7" stop-opacity="0.97"/><stop offset="0.65" stop-color="#9c91c4" stop-opacity="0.943"/><stop offset="0.7" stop-color="#8a89c1" stop-opacity="0.912"/><stop offset="0.75" stop-color="#7682bf" stop-opacity="0.881"/><stop offset="0.8" stop-color="#627cbd" stop-opacity="0.853"/><stop offset="0.85" stop-color="#4b78bc" stop-opacity="0.833"/><stop offset="0.9" stop-color="#3475bb" stop-opacity="0.82"/><stop offset="0.95" stop-color="#1c74bb" stop-opacity="0.815"/><stop offset="1" stop-color="#0e74bb" stop-opacity="0.814"/></linearGradient>
<linearGradient id="g30" gradientUnits="userSpaceOnUse" x1="17.9" y1="0" x2="269.1" y2="0"><stop offset="0" stop-color="#fcc6dd" stop-opacity="0.814"/><stop offset="0.05" stop-color="#fcc6dd" stop-opacity="0.815"/><stop offset="0.1" stop-color="#fcc5dc" stop-opacity="0.82"/><stop offset="0.15" stop-color="#fcc4db" stop-opacity="0.833"/><stop offset="0.2" stop-color="#fcc2d9" stop-opacity="0.853"/><stop offset="0.25" stop-color="#fcbfd5" stop-opacity="0.881"/><stop offset="0.3" stop-color="#fcbbd1" stop-opacity="0.912"/><stop offset="0.35" stop-color="#fcb5cb" stop-opacity="0.943"/><stop offset="0.4" stop-color="#fbafc3" stop-opacity="0.97"/><stop offset="0.45" stop-color="#fba7bb" stop-opacity="0.987"/><stop offset="0.5" stop-color="#fb9eb1" stop-opacity="0.993"/><stop offset="0.55" stop-color="#fb94a6" stop-opacity="0.987"/><stop offset="0.6" stop-color="#fb8999" stop-opacity="0.97"/><stop offset="0.65" stop-color="#fa7d8c" stop-opacity="0.943"/><stop offset="0.7" stop-color="#fa6f7e" stop-opacity="0.912"/><stop offset="0.75" stop-color="#fa626f" stop-opacity="0.881"/><stop offset="0.8" stop-color="#fa5360" stop-opacity="0.853"/><stop offset="0.85" stop-color="#fa4652" stop-opacity="0.833"/><stop offset="0.9" stop-color="#fa3b47" stop-opacity="0.82"/><stop offset="0.95" stop-color="#fa3541" stop-opacity="0.815"/><stop offset="1" stop-color="#fa3440" stop-opacity="0.814"/></linearGradient>
<clipPath id="cp0"><path d="M17.9 106.4C118.4 106.4 168.6 187.3 269.1 187.3V236.1C168.6 236.1 118.4 155.2 17.9 155.2Z"/></clipPath>
<linearGradient id="g31" gradientUnits="userSpaceOnUse" x1="280" y1="0" x2="531" y2="0"><stop offset="0" stop-color="#faed00" stop-opacity="0.814"/><stop offset="0.05" stop-color="#faed00" stop-opacity="0.814"/><stop offset="0.1" stop-color="#faed0a" stop-opacity="0.815"/><stop offset="0.15" stop-color="#f9ec13" stop-opacity="0.817"/><stop offset="0.2" stop-color="#f7eb1c" stop-opacity="0.824"/><stop offset="0.25" stop-color="#f4e924" stop-opacity="0.834"/><stop offset="0.3" stop-color="#f0e52b" stop-opacity="0.848"/><stop offset="0.35" stop-color="#eae132" stop-opacity="0.863"/><stop offset="0.4" stop-color="#e2db38" stop-opacity="0.878"/><stop offset="0.45" stop-color="#d8d43e" stop-opacity="0.889"/><stop offset="0.5" stop-color="#cdcc43" stop-opacity="0.895"/><stop offset="0.55" stop-color="#c0c448" stop-opacity="0.895"/><stop offset="0.6" stop-color="#b1bb4c" stop-opacity="0.889"/><stop offset="0.65" stop-color="#a0b14f" stop-opacity="0.878"/><stop offset="0.7" stop-color="#8ea752" stop-opacity="0.863"/><stop offset="0.75" stop-color="#7b9f54" stop-opacity="0.848"/><stop offset="0.8" stop-color="#659756" stop-opacity="0.834"/><stop offset="0.85" stop-color="#4e9157" stop-opacity="0.824"/><stop offset="0.9" stop-color="#368e58" stop-opacity="0.817"/><stop offset="0.95" stop-color="#1c8c58" stop-opacity="0.815"/><stop offset="1" stop-color="#008c58" stop-opacity="0.814"/></linearGradient>
<linearGradient id="g32" gradientUnits="userSpaceOnUse" x1="280" y1="0" x2="531" y2="0"><stop offset="0" stop-color="#faed00" stop-opacity="0.814"/><stop offset="0.05" stop-color="#faed0d" stop-opacity="0.814"/><stop offset="0.1" stop-color="#faed1a" stop-opacity="0.814"/><stop offset="0.15" stop-color="#f9ed25" stop-opacity="0.814"/><stop offset="0.2" stop-color="#f8ec30" stop-opacity="0.814"/><stop offset="0.25" stop-color="#f7ec3b" stop-opacity="0.814"/><stop offset="0.3" stop-color="#f4eb44" stop-opacity="0.814"/><stop offset="0.35" stop-color="#f2eb4d" stop-opacity="0.814"/><stop offset="0.4" stop-color="#efea55" stop-opacity="0.814"/><stop offset="0.45" stop-color="#ece95d" stop-opacity="0.814"/><stop offset="0.5" stop-color="#e8e863" stop-opacity="0.814"/><stop offset="0.55" stop-color="#e4e769" stop-opacity="0.814"/><stop offset="0.6" stop-color="#e1e66e" stop-opacity="0.814"/><stop offset="0.65" stop-color="#dde572" stop-opacity="0.814"/><stop offset="0.7" stop-color="#dae576" stop-opacity="0.814"/><stop offset="0.75" stop-color="#d8e479" stop-opacity="0.814"/><stop offset="0.8" stop-color="#d6e47b" stop-opacity="0.814"/><stop offset="0.85" stop-color="#d4e37c" stop-opacity="0.814"/><stop offset="0.9" stop-color="#d3e37d" stop-opacity="0.814"/><stop offset="0.95" stop-color="#d3e37d" stop-opacity="0.814"/><stop offset="1" stop-color="#d3e37d" stop-opacity="0.814"/></linearGradient>
<linearGradient id="g33" gradientUnits="userSpaceOnUse" x1="280" y1="0" x2="531" y2="0"><stop offset="0" stop-color="#faed00" stop-opacity="0.814"/><stop offset="0.05" stop-color="#faed14" stop-opacity="0.814"/><stop offset="0.1" stop-color="#f9ec26" stop-opacity="0.814"/><stop offset="0.15" stop-color="#f8eb38" stop-opacity="0.814"/><stop offset="0.2" stop-color="#f5e948" stop-opacity="0.814"/><stop offset="0.25" stop-color="#f1e658" stop-opacity="0.814"/><stop offset="0.3" stop-color="#ece166" stop-opacity="0.814"/><stop offset="0.35" stop-color="#e5db73" stop-opacity="0.814"/><stop offset="0.4" stop-color="#dcd480" stop-opacity="0.814"/><stop offset="0.45" stop-color="#d2cc8b" stop-opacity="0.814"/><stop offset="0.5" stop-color="#c6c394" stop-opacity="0.814"/><stop offset="0.55" stop-color="#b9b99d" stop-opacity="0.814"/><stop offset="0.6" stop-color="#abaea5" stop-opacity="0.814"/><stop offset="0.65" stop-color="#9aa3ab" stop-opacity="0.814"/><stop offset="0.7" stop-color="#8998b0" stop-opacity="0.814"/><stop offset="0.75" stop-color="#758db4" stop-opacity="0.814"/><stop offset="0.8" stop-color="#6183b7" stop-opacity="0.814"/><stop offset="0.85" stop-color="#4b7bb9" stop-opacity="0.814"/><stop offset="0.9" stop-color="#3376ba" stop-opacity="0.814"/><stop offset="0.95" stop-color="#1c74bb" stop-opacity="0.814"/><stop offset="1" stop-color="#0e74bb" stop-opacity="0.814"/></linearGradient>
<linearGradient id="g34" gradientUnits="userSpaceOnUse" x1="280" y1="0" x2="531" y2="0"><stop offset="0" stop-color="#faed00" stop-opacity="0.814"/><stop offset="0.05" stop-color="#faed00" stop-opacity="0.814"/><stop offset="0.1" stop-color="#fae702" stop-opacity="0.814"/><stop offset="0.15" stop-color="#fadd06" stop-opacity="0.814"/><stop offset="0.2" stop-color="#fad309" stop-opacity="0.814"/><stop offset="0.25" stop-color="#fac90c" stop-opacity="0.814"/><stop offset="0.3" stop-color="#fabf10" stop-opacity="0.814"/><stop offset="0.35" stop-color="#fab513" stop-opacity="0.814"/><stop offset="0.4" stop-color="#faab17" stop-opacity="0.814"/><stop offset="0.45" stop-color="#faa11a" stop-opacity="0.814"/><stop offset="0.5" stop-color="#fa971e" stop-opacity="0.814"/><stop offset="0.55" stop-color="#fa8e21" stop-opacity="0.814"/><stop offset="0.6" stop-color="#fa8424" stop-opacity="0.814"/><stop offset="0.65" stop-color="#fa7a28" stop-opacity="0.814"/><stop offset="0.7" stop-color="#fa702b" stop-opacity="0.814"/><stop offset="0.75" stop-color="#fa662f" stop-opacity="0.814"/><stop offset="0.8" stop-color="#fa5c32" stop-opacity="0.814"/><stop offset="0.85" stop-color="#fa5236" stop-opacity="0.814"/><stop offset="0.9" stop-color="#fa4839" stop-opacity="0.814"/><stop offset="0.95" stop-color="#fa3e3d" stop-opacity="0.814"/><stop offset="1" stop-color="#fa3440" stop-opacity="0.814"/></linearGradient>
<linearGradient id="g35" gradientUnits="userSpaceOnUse" x1="280" y1="0" x2="531" y2="0"><stop offset="0" stop-color="#faed00" stop-opacity="0.814"/><stop offset="0.05" stop-color="#faed17" stop-opacity="0.815"/><stop offset="0.1" stop-color="#faed2d" stop-opacity="0.82"/><stop offset="0.15" stop-color="#faec42" stop-opacity="0.833"/><stop offset="0.2" stop-color="#faeb56" stop-opacity="0.853"/><stop offset="0.25" stop-color="#faea68" stop-opacity="0.881"/><stop offset="0.3" stop-color="#fae879" stop-opacity="0.912"/><stop offset="0.35" stop-color="#fae588" stop-opacity="0.943"/><stop offset="0.4" stop-color="#fbe297" stop-opacity="0.97"/><stop offset="0.45" stop-color="#fbdfa4" stop-opacity="0.987"/><stop offset="0.5" stop-color="#fbdbaf" stop-opacity="0.993"/><stop offset="0.55" stop-color="#fbd8ba" stop-opacity="0.987"/><stop offset="0.6" stop-color="#fbd4c3" stop-opacity="0.97"/><stop offset="0.65" stop-color="#fcd1ca" stop-opacity="0.943"/><stop offset="0.7" stop-color="#fccdd0" stop-opacity="0.912"/><stop offset="0.75" stop-color="#fccbd5" stop-opacity="0.881"/><stop offset="0.8" stop-color="#fcc9d9" stop-opacity="0.853"/><stop offset="0.85" stop-color="#fcc7db" stop-opacity="0.833"/><stop offset="0.9" stop-color="#fcc6dc" stop-opacity="0.82"/><stop offset="0.95" stop-color="#fcc6dd" stop-opacity="0.815"/><stop offset="1" stop-color="#fcc6dd" stop-opacity="0.814"/></linearGradient>
<linearGradient id="g36" gradientUnits="userSpaceOnUse" x1="280" y1="0" x2="531" y2="0"><stop offset="0" stop-color="#008c58" stop-opacity="0.814"/><stop offset="0.05" stop-color="#108c58" stop-opacity="0.814"/><stop offset="0.1" stop-color="#2a8d58" stop-opacity="0.816"/><stop offset="0.15" stop-color="#438f57" stop-opacity="0.82"/><stop offset="0.2" stop-color="#5a9457" stop-opacity="0.829"/><stop offset="0.25" stop-color="#6f9a55" stop-opacity="0.84"/><stop offset="0.3" stop-color="#83a254" stop-opacity="0.855"/><stop offset="0.35" stop-color="#96ab51" stop-opacity="0.869"/><stop offset="0.4" stop-color="#a7b44e" stop-opacity="0.882"/><stop offset="0.45" stop-color="#b6be4b" stop-opacity="0.892"/><stop offset="0.5" stop-color="#c4c747" stop-opacity="0.896"/><stop offset="0.55" stop-color="#d0cf42" stop-opacity="0.894"/><stop offset="0.6" stop-color="#dbd63d" stop-opacity="0.886"/><stop offset="0.65" stop-color="#e4dc37" stop-opacity="0.875"/><stop offset="0.7" stop-color="#ebe231" stop-opacity="0.861"/><stop offset="0.75" stop-color="#f1e62a" stop-opacity="0.846"/><stop offset="0.8" stop-color="#f5e923" stop-opacity="0.833"/><stop offset="0.85" stop-color="#f8eb1b" stop-opacity="0.823"/><stop offset="0.9" stop-color="#f9ec12" stop-opacity="0.817"/><stop offset="0.95" stop-color="#faed09" stop-opacity="0.815"/><stop offset="1" stop-color="#faed00" stop-opacity="0.814"/></linearGradient>
<linearGradient id="g37" gradientUnits="userSpaceOnUse" x1="280" y1="0" x2="531" y2="0"><stop offset="0" stop-color="#008c58" stop-opacity="0.814"/><stop offset="0.05" stop-color="#168c58" stop-opacity="0.814"/><stop offset="0.1" stop-color="#2b8d58" stop-opacity="0.814"/><stop offset="0.15" stop-color="#3f9059" stop-opacity="0.814"/><stop offset="0.2" stop-color="#52945b" stop-opacity="0.814"/><stop offset="0.25" stop-color="#639a5d" stop-opacity="0.814"/><stop offset="0.3" stop-color="#73a160" stop-opacity="0.814"/><stop offset="0.35" stop-color="#82a963" stop-opacity="0.814"/><stop offset="0.4" stop-color="#90b167" stop-opacity="0.814"/><stop offset="0.45" stop-color="#9cba6a" stop-opacity="0.814"/><stop offset="0.5" stop-color="#a7c16e" stop-opacity="0.814"/><stop offset="0.55" stop-color="#b1c871" stop-opacity="0.814"/><stop offset="0.6" stop-color="#bacf74" stop-opacity="0.814"/><stop offset="0.65" stop-color="#c1d476" stop-opacity="0.814"/><stop offset="0.7" stop-color="#c7d978" stop-opacity="0.814"/><stop offset="0.75" stop-color="#cbdd7a" stop-opacity="0.814"/><stop offset="0.8" stop-color="#cfe07b" stop-opacity="0.814"/><stop offset="0.85" stop-color="#d1e17c" stop-opacity="0.814"/><stop offset="0.9" stop-color="#d2e37d" stop-opacity="0.814"/><stop offset="0.95" stop-color="#d3e37d" stop-opacity="0.814"/><stop offset="1" stop-color="#d3e37d" stop-opacity="0.814"/></linearGradient>
<linearGradient id="g38" gradientUnits="userSpaceOnUse" x1="280" y1="0" x2="531" y2="0"><stop offset="0" stop-color="#008c58" stop-opacity="0.814"/><stop offset="0.05" stop-color="#018c58" stop-opacity="0.815"/><stop offset="0.1" stop-color="#038c5a" stop-opacity="0.82"/><stop offset="0.15" stop-color="#048b5e" stop-opacity="0.833"/><stop offset="0.2" stop-color="#058b65" stop-opacity="0.853"/><stop offset="0.25" stop-color="#078a6d" stop-opacity="0.881"/><stop offset="0.3" stop-color="#088976" stop-opacity="0.912"/><stop offset="0.35" stop-color="#09877f" stop-opacity="0.943"/><stop offset="0.4" stop-color="#0a8588" stop-opacity="0.97"/><stop offset="0.45" stop-color="#0a8391" stop-opacity="0.987"/><stop offset="0.5" stop-color="#0b8199" stop-opacity="0.993"/><stop offset="0.55" stop-color="#0c7fa1" stop-opacity="0.987"/><stop offset="0.6" stop-color="#0c7da7" stop-opacity="0.97"/><stop offset="0.65" stop-color="#0d7bad" stop-opacity="0.943"/><stop offset="0.7" stop-color="#0d79b1" stop-opacity="0.912"/><stop offset="0.75" stop-color="#0d77b5" stop-opacity="0.881"/><stop offset="0.8" stop-color="#0e76b8" stop-opacity="0.853"/><stop offset="0.85" stop-color="#0e75ba" stop-opacity="0.833"/><stop offset="0.9" stop-color="#0e74bb" stop-opacity="0.82"/><stop offset="0.95" stop-color="#0e74bb" stop-opacity="0.815"/><stop offset="1" stop-color="#0e74bb" stop-opacity="0.814"/></linearGradient>
<linearGradient id="g39" gradientUnits="userSpaceOnUse" x1="280" y1="0" x2="531" y2="0"><stop offset="0" stop-color="#008c58" stop-opacity="0.814"/><stop offset="0.05" stop-color="#1a8c58" stop-opacity="0.815"/><stop offset="0.1" stop-color="#338c58" stop-opacity="0.82"/><stop offset="0.15" stop-color="#4b8b58" stop-opacity="0.833"/><stop offset="0.2" stop-color="#618957" stop-opacity="0.853"/><stop offset="0.25" stop-color="#758756" stop-opacity="0.881"/><stop offset="0.3" stop-color="#898455" stop-opacity="0.912"/><stop offset="0.35" stop-color="#9a8154" stop-opacity="0.943"/><stop offset="0.4" stop-color="#ab7c52" stop-opacity="0.97"/><stop offset="0.45" stop-color="#b97750" stop-opacity="0.987"/><stop offset="0.5" stop-color="#c6714e" stop-opacity="0.993"/><stop offset="0.55" stop-color="#d26a4c" stop-opacity="0.987"/><stop offset="0.6" stop-color="#dc6349" stop-opacity="0.97"/><stop offset="0.65" stop-color="#e55b47" stop-opacity="0.943"/><stop offset="0.7" stop-color="#ec5345" stop-opacity="0.912"/><stop offset="0.75" stop-color="#f14a43" stop-opacity="0.881"/><stop offset="0.8" stop-color="#f54242" stop-opacity="0.853"/><stop offset="0.85" stop-color="#f83b41" stop-opacity="0.833"/><stop offset="0.9" stop-color="#f93740" stop-opacity="0.82"/><stop offset="0.95" stop-color="#fa3440" stop-opacity="0.815"/><stop offset="1" stop-color="#fa3440" stop-opacity="0.814"/></linearGradient>
<linearGradient id="g40" gradientUnits="userSpaceOnUse" x1="280" y1="0" x2="531" y2="0"><stop offset="0" stop-color="#008c58" stop-opacity="0.814"/><stop offset="0.05" stop-color="#1a8c59" stop-opacity="0.815"/><stop offset="0.1" stop-color="#348d5c" stop-opacity="0.82"/><stop offset="0.15" stop-color="#4b8e62" stop-opacity="0.833"/><stop offset="0.2" stop-color="#62916c" stop-opacity="0.853"/><stop offset="0.25" stop-color="#769478" stop-opacity="0.881"/><stop offset="0.3" stop-color="#8a9985" stop-opacity="0.912"/><stop offset="0.35" stop-color="#9c9e91" stop-opacity="0.943"/><stop offset="0.4" stop-color="#aca39d" stop-opacity="0.97"/><stop offset="0.45" stop-color="#bba9a9" stop-opacity="0.987"/><stop offset="0.5" stop-color="#c8aeb3" stop-opacity="0.993"/><stop offset="0.55" stop-color="#d4b3bc" stop-opacity="0.987"/><stop offset="0.6" stop-color="#deb7c4" stop-opacity="0.97"/><stop offset="0.65" stop-color="#e6bbcb" stop-opacity="0.943"/><stop offset="0.7" stop-color="#edbfd1" stop-opacity="0.912"/><stop offset="0.75" stop-color="#f3c1d6" stop-opacity="0.881"/><stop offset="0.8" stop-color="#f7c3d9" stop-opacity="0.853"/><stop offset="0.85" stop-color="#fac5db" stop-opacity="0.833"/><stop offset="0.9" stop-color="#fbc6dc" stop-opacity="0.82"/><stop offset="0.95" stop-color="#fcc6dd" stop-opacity="0.815"/><stop offset="1" stop-color="#fcc6dd" stop-opacity="0.814"/></linearGradient>
<linearGradient id="g41" gradientUnits="userSpaceOnUse" x1="280" y1="0" x2="531" y2="0"><stop offset="0" stop-color="#d3e37d" stop-opacity="0.814"/><stop offset="0.05" stop-color="#d3e37d" stop-opacity="0.814"/><stop offset="0.1" stop-color="#d3e37d" stop-opacity="0.814"/><stop offset="0.15" stop-color="#d4e37c" stop-opacity="0.814"/><stop offset="0.2" stop-color="#d6e47b" stop-opacity="0.814"/><stop offset="0.25" stop-color="#d8e479" stop-opacity="0.814"/><stop offset="0.3" stop-color="#dae576" stop-opacity="0.814"/><stop offset="0.35" stop-color="#dde572" stop-opacity="0.814"/><stop offset="0.4" stop-color="#e1e66e" stop-opacity="0.814"/><stop offset="0.45" stop-color="#e4e769" stop-opacity="0.814"/><stop offset="0.5" stop-color="#e8e863" stop-opacity="0.814"/><stop offset="0.55" stop-color="#ece95d" stop-opacity="0.814"/><stop offset="0.6" stop-color="#efea55" stop-opacity="0.814"/><stop offset="0.65" stop-color="#f2eb4d" stop-opacity="0.814"/><stop offset="0.7" stop-color="#f4eb44" stop-opacity="0.814"/><stop offset="0.75" stop-color="#f7ec3b" stop-opacity="0.814"/><stop offset="0.8" stop-color="#f8ec30" stop-opacity="0.814"/><stop offset="0.85" stop-color="#f9ed25" stop-opacity="0.814"/><stop offset="0.9" stop-color="#faed1a" stop-opacity="0.814"/><stop offset="0.95" stop-color="#faed0d" stop-opacity="0.814"/><stop offset="1" stop-color="#faed00" stop-opacity="0.814"/></linearGradient>
<linearGradient id="g42" gradientUnits="userSpaceOnUse" x1="280" y1="0" x2="531" y2="0"><stop offset="0" stop-color="#d3e37d" stop-opacity="0.814"/><stop offset="0.05" stop-color="#d3e37d" stop-opacity="0.814"/><stop offset="0.1" stop-color="#d2e37d" stop-opacity="0.814"/><stop offset="0.15" stop-color="#d1e17c" stop-opacity="0.814"/><stop offset="0.2" stop-color="#cfe07b" stop-opacity="0.814"/><stop offset="0.25" stop-color="#cbdd7a" stop-opacity="0.814"/><stop offset="0.3" stop-color="#c7d978" stop-opacity="0.814"/><stop offset="0.35" stop-color="#c1d476" stop-opacity="0.814"/><stop offset="0.4" stop-color="#bacf74" stop-opacity="0.814"/><stop offset="0.45" stop-color="#b1c871" stop-opacity="0.814"/><stop offset="0.5" stop-color="#a7c16e" stop-opacity="0.814"/><stop offset="0.55" stop-color="#9cba6a" stop-opacity="0.814"/><stop offset="0.6" stop-color="#90b167" stop-opacity="0.814"/><stop offset="0.65" stop-color="#82a963" stop-opacity="0.814"/><stop offset="0.7" stop-color="#73a160" stop-opacity="0.814"/><stop offset="0.75" stop-color="#639a5d" stop-opacity="0.814"/><stop offset="0.8" stop-color="#52945b" stop-opacity="0.814"/><stop offset="0.85" stop-color="#3f9059" stop-opacity="0.814"/><stop offset="0.9" stop-color="#2b8d58" stop-opacity="0.814"/><stop offset="0.95" stop-color="#168c58" stop-opacity="0.814"/><stop offset="1" stop-color="#008c58" stop-opacity="0.814"/></linearGradient>
<linearGradient id="g43" gradientUnits="userSpaceOnUse" x1="280" y1="0" x2="531" y2="0"><stop offset="0" stop-color="#d3e37d" stop-opacity="0.814"/><stop offset="0.05" stop-color="#d3e37d" stop-opacity="0.815"/><stop offset="0.1" stop-color="#d2e27e" stop-opacity="0.82"/><stop offset="0.15" stop-color="#d1e180" stop-opacity="0.833"/><stop offset="0.2" stop-color="#cfdf82" stop-opacity="0.853"/><stop offset="0.25" stop-color="#cbdc86" stop-opacity="0.881"/><stop offset="0.3" stop-color="#c7d88b" stop-opacity="0.912"/><stop offset="0.35" stop-color="#c1d291" stop-opacity="0.943"/><stop offset="0.4" stop-color="#bacc97" stop-opacity="0.97"/><stop offset="0.45" stop-color="#b1c49c" stop-opacity="0.987"/><stop offset="0.5" stop-color="#a7bca2" stop-opacity="0.993"/><stop offset="0.55" stop-color="#9cb2a7" stop-opacity="0.987"/><stop offset="0.6" stop-color="#90a8ac" stop-opacity="0.97"/><stop offset="0.65" stop-color="#829eb0" stop-opacity="0.943"/><stop offset="0.7" stop-color="#7394b4" stop-opacity="0.912"/><stop offset="0.75" stop-color="#638ab6" stop-opacity="0.881"/><stop offset="0.8" stop-color="#5281b8" stop-opacity="0.853"/><stop offset="0.85" stop-color="#3f7aba" stop-opacity="0.833"/><stop offset="0.9" stop-color="#2c76bb" stop-opacity="0.82"/><stop offset="0.95" stop-color="#1874bb" stop-opacity="0.815"/><stop offset="1" stop-color="#0e74bb" stop-opacity="0.814"/></linearGradient>
<linearGradient id="g44" gradientUnits="userSpaceOnUse" x1="280" y1="0" x2="531" y2="0"><stop offset="0" stop-color="#d3e37d" stop-opacity="0.814"/><stop offset="0.05" stop-color="#d3e37d" stop-opacity="0.815"/><stop offset="0.1" stop-color="#d3e27d" stop-opacity="0.82"/><stop offset="0.15" stop-color="#d4e17c" stop-opacity="0.833"/><stop offset="0.2" stop-color="#d6df7b" stop-opacity="0.853"/><stop offset="0.25" stop-color="#d8db79" stop-opacity="0.881"/><stop offset="0.3" stop-color="#dad677" stop-opacity="0.912"/><stop offset="0.35" stop-color="#ddd074" stop-opacity="0.943"/><stop offset="0.4" stop-color="#e1c870" stop-opacity="0.97"/><stop offset="0.45" stop-color="#e4bf6c" stop-opacity="0.987"/><stop offset="0.5" stop-color="#e8b567" stop-opacity="0.993"/><stop offset="0.55" stop-color="#eca962" stop-opacity="0.987"/><stop offset="0.6" stop-color="#ef9c5d" stop-opacity="0.97"/><stop offset="0.65" stop-color="#f28e57" stop-opacity="0.943"/><stop offset="0.7" stop-color="#f47f51" stop-opacity="0.912"/><stop offset="0.75" stop-color="#f76e4c" stop-opacity="0.881"/><stop offset="0.8" stop-color="#f85d47" stop-opacity="0.853"/><stop offset="0.85" stop-color="#f94d43" stop-opacity="0.833"/><stop offset="0.9" stop-color="#fa3e41" stop-opacity="0.82"/><stop offset="0.95" stop-color="#fa3640" stop-opacity="0.815"/><stop offset="1" stop-color="#fa3440" stop-opacity="0.814"/></linearGradient>
<linearGradient id="g45" gradientUnits="userSpaceOnUse" x1="280" y1="0" x2="531" y2="0"><stop offset="0" stop-color="#d3e37d" stop-opacity="0.814"/><stop offset="0.05" stop-color="#d3e37d" stop-opacity="0.815"/><stop offset="0.1" stop-color="#d3e37f" stop-opacity="0.82"/><stop offset="0.15" stop-color="#d4e282" stop-opacity="0.833"/><stop offset="0.2" stop-color="#d6e287" stop-opacity="0.853"/><stop offset="0.25" stop-color="#d8e08e" stop-opacity="0.881"/><stop offset="0.3" stop-color="#dbdf96" stop-opacity="0.912"/><stop offset="0.35" stop-color="#dedd9f" stop-opacity="0.943"/><stop offset="0.4" stop-color="#e2dba8" stop-opacity="0.97"/><stop offset="0.45" stop-color="#e5d8b1" stop-opacity="0.987"/><stop offset="0.5" stop-color="#e9d5b9" stop-opacity="0.993"/><stop offset="0.55" stop-color="#edd3c1" stop-opacity="0.987"/><stop offset="0.6" stop-color="#f0d0c8" stop-opacity="0.97"/><stop offset="0.65" stop-color="#f4cece" stop-opacity="0.943"/><stop offset="0.7" stop-color="#f6cbd3" stop-opacity="0.912"/><stop offset="0.75" stop-color="#f8c9d7" stop-opacity="0.881"/><stop offset="0.8" stop-color="#fac8d9" stop-opacity="0.853"/><stop offset="0.85" stop-color="#fbc7db" stop-opacity="0.833"/><stop offset="0.9" stop-color="#fcc6dc" stop-opacity="0.82"/><stop offset="0.95" stop-color="#fcc6dd" stop-opacity="0.815"/><stop offset="1" stop-color="#fcc6dd" stop-opacity="0.814"/></linearGradient>
<linearGradient id="g46" gradientUnits="userSpaceOnUse" x1="280" y1="0" x2="531" y2="0"><stop offset="0" stop-color="#0e74bb" stop-opacity="0.814"/><stop offset="0.05" stop-color="#1c74bb" stop-opacity="0.815"/><stop offset="0.1" stop-color="#3376ba" stop-opacity="0.82"/><stop offset="0.15" stop-color="#4b7bb9" stop-opacity="0.833"/><stop offset="0.2" stop-color="#6183b7" stop-opacity="0.853"/><stop offset="0.25" stop-color="#758db4" stop-opacity="0.881"/><stop offset="0.3" stop-color="#8998b0" stop-opacity="0.912"/><stop offset="0.35" stop-color="#9aa3ab" stop-opacity="0.943"/><stop offset="0.4" stop-color="#abaea5" stop-opacity="0.97"/><stop offset="0.45" stop-color="#b9b99d" stop-opacity="0.987"/><stop offset="0.5" stop-color="#c6c394" stop-opacity="0.993"/><stop offset="0.55" stop-color="#d2cc8b" stop-opacity="0.987"/><stop offset="0.6" stop-color="#dcd480" stop-opacity="0.97"/><stop offset="0.65" stop-color="#e5db73" stop-opacity="0.943"/><stop offset="0.7" stop-color="#ece166" stop-opacity="0.912"/><stop offset="0.75" stop-color="#f1e658" stop-opacity="0.881"/><stop offset="0.8" stop-color="#f5e948" stop-opacity="0.853"/><stop offset="0.85" stop-color="#f8eb38" stop-opacity="0.833"/><stop offset="0.9" stop-color="#f9ec26" stop-opacity="0.82"/><stop offset="0.95" stop-color="#faed14" stop-opacity="0.815"/><stop offset="1" stop-color="#faed00" stop-opacity="0.814"/></linearGradient>
<linearGradient id="g47" gradientUnits="userSpaceOnUse" x1="280" y1="0" x2="531" y2="0"><stop offset="0" stop-color="#0e74bb" stop-opacity="0.814"/><stop offset="0.05" stop-color="#0e74bb" stop-opacity="0.815"/><stop offset="0.1" stop-color="#0e74bb" stop-opacity="0.82"/><stop offset="0.15" stop-color="#0e75ba" stop-opacity="0.833"/><stop offset="0.2" stop-color="#0e76b8" stop-opacity="0.853"/><stop offset="0.25" stop-color="#0d77b5" stop-opacity="0.881"/><stop offset="0.3" stop-color="#0d79b1" stop-opacity="0.912"/><stop offset="0.35" stop-color="#0d7bad" stop-opacity="0.943"/><stop offset="0.4" stop-color="#0c7da7" stop-opacity="0.97"/><stop offset="0.45" stop-color="#0c7fa1" stop-opacity="0.987"/><stop offset="0.5" stop-color="#0b8199" stop-opacity="0.993"/><stop offset="0.55" stop-color="#0a8391" stop-opacity="0.987"/><stop offset="0.6" stop-color="#0a8588" stop-opacity="0.97"/><stop offset="0.65" stop-color="#09877f" stop-opacity="0.943"/><stop offset="0.7" stop-color="#088976" stop-opacity="0.912"/><stop offset="0.75" stop-color="#078a6d" stop-opacity="0.881"/><stop offset="0.8" stop-color="#058b65" stop-opacity="0.853"/><stop offset="0.85" stop-color="#048b5e" stop-opacity="0.833"/><stop offset="0.9" stop-color="#038c5a" stop-opacity="0.82"/><stop offset="0.95" stop-color="#018c58" stop-opacity="0.815"/><stop offset="1" stop-color="#008c58" stop-opacity="0.814"/></linearGradient>
<linearGradient id="g48" gradientUnits="userSpaceOnUse" x1="280" y1="0" x2="531" y2="0"><stop offset="0" stop-color="#0e74bb" stop-opacity="0.814"/><stop offset="0.05" stop-color="#1874bb" stop-opacity="0.815"/><stop offset="0.1" stop-color="#2c76bb" stop-opacity="0.82"/><stop offset="0.15" stop-color="#3f7aba" stop-opacity="0.833"/><stop offset="0.2" stop-color="#5281b8" stop-opacity="0.853"/><stop offset="0.25" stop-color="#638ab6" stop-opacity="0.881"/><stop offset="0.3" stop-color="#7394b4" stop-opacity="0.912"/><stop offset="0.35" stop-color="#829eb0" stop-opacity="0.943"/><stop offset="0.4" stop-color="#90a8ac" stop-opacity="0.97"/><stop offset="0.45" stop-color="#9cb2a7" stop-opacity="0.987"/><stop offset="0.5" stop-color="#a7bca2" stop-opacity="0.993"/><stop offset="0.55" stop-color="#b1c49c" stop-opacity="0.987"/><stop offset="0.6" stop-color="#bacc97" stop-opacity="0.97"/><stop offset="0.65" stop-color="#c1d291" stop-opacity="0.943"/><stop offset="0.7" stop-color="#c7d88b" stop-opacity="0.912"/><stop offset="0.75" stop-color="#cbdc86" stop-opacity="0.881"/><stop offset="0.8" stop-color="#cfdf82" stop-opacity="0.853"/><stop offset="0.85" stop-color="#d1e180" stop-opacity="0.833"/><stop offset="0.9" stop-color="#d2e27e" stop-opacity="0.82"/><stop offset="0.95" stop-color="#d3e37d" stop-opacity="0.815"/><stop offset="1" stop-color="#d3e37d" stop-opacity="0.814"/></linearGradient>
<linearGradient id="g49" gradientUnits="userSpaceOnUse" x1="280" y1="0" x2="531" y2="0"><stop offset="0" stop-color="#0e74bb" stop-opacity="0.814"/><stop offset="0.05" stop-color="#1c74bb" stop-opacity="0.815"/><stop offset="0.1" stop-color="#3374ba" stop-opacity="0.82"/><stop offset="0.15" stop-color="#4b73b9" stop-opacity="0.833"/><stop offset="0.2" stop-color="#6172b7" stop-opacity="0.853"/><stop offset="0.25" stop-color="#7570b5" stop-opacity="0.881"/><stop offset="0.3" stop-color="#896eb1" stop-opacity="0.912"/><stop offset="0.35" stop-color="#9a6bac" stop-opacity="0.943"/><stop offset="0.4" stop-color="#ab68a6" stop-opacity="0.97"/><stop offset="0.45" stop-color="#b9639f" stop-opacity="0.987"/><stop offset="0.5" stop-color="#c65f96" stop-opacity="0.993"/><stop offset="0.55" stop-color="#d25a8d" stop-opacity="0.987"/><stop offset="0.6" stop-color="#dc5483" stop-opacity="0.97"/><stop offset="0.65" stop-color="#e54e78" stop-opacity="0.943"/><stop offset="0.7" stop-color="#ec486d" stop-opacity="0.912"/><stop offset="0.75" stop-color="#f14261" stop-opacity="0.881"/><stop offset="0.8" stop-color="#f53d56" stop-opacity="0.853"/><stop offset="0.85" stop-color="#f8384b" stop-opacity="0.833"/><stop offset="0.9" stop-color="#f93544" stop-opacity="0.82"/><stop offset="0.95" stop-color="#fa3441" stop-opacity="0.815"/><stop offset="1" stop-color="#fa3440" stop-opacity="0.814"/></linearGradient>
<linearGradient id="g50" gradientUnits="userSpaceOnUse" x1="280" y1="0" x2="531" y2="0"><stop offset="0" stop-color="#0e74bb" stop-opacity="0.814"/><stop offset="0.05" stop-color="#1c74bb" stop-opacity="0.815"/><stop offset="0.1" stop-color="#3475bb" stop-opacity="0.82"/><stop offset="0.15" stop-color="#4b78bc" stop-opacity="0.833"/><stop offset="0.2" stop-color="#627cbd" stop-opacity="0.853"/><stop offset="0.25" stop-color="#7682bf" stop-opacity="0.881"/><stop offset="0.3" stop-color="#8a89c1" stop-opacity="0.912"/><stop offset="0.35" stop-color="#9c91c4" stop-opacity="0.943"/><stop offset="0.4" stop-color="#ac98c7" stop-opacity="0.97"/><stop offset="0.45" stop-color="#bba0ca" stop-opacity="0.987"/><stop offset="0.5" stop-color="#c8a7cd" stop-opacity="0.993"/><stop offset="0.55" stop-color="#d4aed0" stop-opacity="0.987"/><stop offset="0.6" stop-color="#deb4d3" stop-opacity="0.97"/><stop offset="0.65" stop-color="#e6b9d6" stop-opacity="0.943"/><stop offset="0.7" stop-color="#edbdd8" stop-opacity="0.912"/><stop offset="0.75" stop-color="#f3c0da" stop-opacity="0.881"/><stop offset="0.8" stop-color="#f7c3db" stop-opacity="0.853"/><stop offset="0.85" stop-color="#fac5dc" stop-opacity="0.833"/><stop offset="0.9" stop-color="#fbc6dd" stop-opacity="0.82"/><stop offset="0.95" stop-color="#fcc6dd" stop-opacity="0.815"/><stop offset="1" stop-color="#fcc6dd" stop-opacity="0.814"/></linearGradient>
<linearGradient id="g51" gradientUnits="userSpaceOnUse" x1="280" y1="0" x2="531" y2="0"><stop offset="0" stop-color="#fa4e3e" stop-opacity="0.814"/><stop offset="0.05" stop-color="#fa603d" stop-opacity="0.814"/><stop offset="0.1" stop-color="#fa6f3b" stop-opacity="0.814"/><stop offset="0.15" stop-color="#fa7c39" stop-opacity="0.814"/><stop offset="0.2" stop-color="#fa8738" stop-opacity="0.814"/><stop offset="0.25" stop-color="#fa9136" stop-opacity="0.814"/><stop offset="0.3" stop-color="#fa9b34" stop-opacity="0.814"/><stop offset="0.35" stop-color="#faa332" stop-opacity="0.814"/><stop offset="0.4" stop-color="#faac30" stop-opacity="0.814"/><stop offset="0.45" stop-color="#fab42e" stop-opacity="0.814"/><stop offset="0.5" stop-color="#fabb2b" stop-opacity="0.814"/><stop offset="0.55" stop-color="#fac229" stop-opacity="0.814"/><stop offset="0.6" stop-color="#fac926" stop-opacity="0.814"/><stop offset="0.65" stop-color="#facf23" stop-opacity="0.814"/><stop offset="0.7" stop-color="#fad620" stop-opacity="0.814"/><stop offset="0.75" stop-color="#fadc1c" stop-opacity="0.814"/><stop offset="0.8" stop-color="#fae217" stop-opacity="0.814"/><stop offset="0.85" stop-color="#fae711" stop-opacity="0.814"/><stop offset="0.9" stop-color="#faed00" stop-opacity="0.814"/><stop offset="0.95" stop-color="#faed00" stop-opacity="0.814"/><stop offset="1" stop-color="#faed00" stop-opacity="0.814"/></linearGradient>
<linearGradient id="g52" gradientUnits="userSpaceOnUse" x1="280" y1="0" x2="531" y2="0"><stop offset="0" stop-color="#fa3440" stop-opacity="0.814"/><stop offset="0.05" stop-color="#fa3440" stop-opacity="0.815"/><stop offset="0.1" stop-color="#f93740" stop-opacity="0.82"/><stop offset="0.15" stop-color="#f83b41" stop-opacity="0.833"/><stop offset="0.2" stop-color="#f54242" stop-opacity="0.853"/><stop offset="0.25" stop-color="#f14a43" stop-opacity="0.881"/><stop offset="0.3" stop-color="#ec5345" stop-opacity="0.912"/><stop offset="0.35" stop-color="#e55b47" stop-opacity="0.943"/><stop offset="0.4" stop-color="#dc6349" stop-opacity="0.97"/><stop offset="0.45" stop-color="#d26a4c" stop-opacity="0.987"/><stop offset="0.5" stop-color="#c6714e" stop-opacity="0.993"/><stop offset="0.55" stop-color="#b97750" stop-opacity="0.987"/><stop offset="0.6" stop-color="#ab7c52" stop-opacity="0.97"/><stop offset="0.65" stop-color="#9a8154" stop-opacity="0.943"/><stop offset="0.7" stop-color="#898455" stop-opacity="0.912"/><stop offset="0.75" stop-color="#758756" stop-opacity="0.881"/><stop offset="0.8" stop-color="#618957" stop-opacity="0.853"/><stop offset="0.85" stop-color="#4b8b58" stop-opacity="0.833"/><stop offset="0.9" stop-color="#338c58" stop-opacity="0.82"/><stop offset="0.95" stop-color="#1a8c58" stop-opacity="0.815"/><stop offset="1" stop-color="#008c58" stop-opacity="0.814"/></linearGradient>
<linearGradient id="g53" gradientUnits="userSpaceOnUse" x1="280" y1="0" x2="531" y2="0"><stop offset="0" stop-color="#fa3440" stop-opacity="0.814"/><stop offset="0.05" stop-color="#fa3640" stop-opacity="0.815"/><stop offset="0.1" stop-color="#fa3e41" stop-opacity="0.82"/><stop offset="0.15" stop-color="#f94d43" stop-opacity="0.833"/><stop offset="0.2" stop-color="#f85d47" stop-opacity="0.853"/><stop offset="0.25" stop-color="#f76e4c" stop-opacity="0.881"/><stop offset="0.3" stop-color="#f47f51" stop-opacity="0.912"/><stop offset="0.35" stop-color="#f28e57" stop-opacity="0.943"/><stop offset="0.4" stop-color="#ef9c5d" stop-opacity="0.97"/><stop offset="0.45" stop-color="#eca962" stop-opacity="0.987"/><stop offset="0.5" stop-color="#e8b567" stop-opacity="0.993"/><stop offset="0.55" stop-color="#e4bf6c" stop-opacity="0.987"/><stop offset="0.6" stop-color="#e1c870" stop-opacity="0.97"/><stop offset="0.65" stop-color="#ddd074" stop-opacity="0.943"/><stop offset="0.7" stop-color="#dad677" stop-opacity="0.912"/><stop offset="0.75" stop-color="#d8db79" stop-opacity="0.881"/><stop offset="0.8" stop-color="#d6df7b" stop-opacity="0.853"/><stop offset="0.85" stop-color="#d4e17c" stop-opacity="0.833"/><stop offset="0.9" stop-color="#d3e27d" stop-opacity="0.82"/><stop offset="0.95" stop-color="#d3e37d" stop-opacity="0.815"/><stop offset="1" stop-color="#d3e37d" stop-opacity="0.814"/></linearGradient>
<linearGradient id="g54" gradientUnits="userSpaceOnUse" x1="280" y1="0" x2="531" y2="0"><stop offset="0" stop-color="#fa3440" stop-opacity="0.814"/><stop offset="0.05" stop-color="#fa3441" stop-opacity="0.815"/><stop offset="0.1" stop-color="#f93544" stop-opacity="0.82"/><stop offset="0.15" stop-color="#f8384b" stop-opacity="0.833"/><stop offset="0.2" stop-color="#f53d56" stop-opacity="0.853"/><stop offset="0.25" stop-color="#f14261" stop-opacity="0.881"/><stop offset="0.3" stop-color="#ec486d" stop-opacity="0.912"/><stop offset="0.35" stop-color="#e54e78" stop-opacity="0.943"/><stop offset="0.4" stop-color="#dc5483" stop-opacity="0.97"/><stop offset="0.45" stop-color="#d25a8d" stop-opacity="0.987"/><stop offset="0.5" stop-color="#c65f96" stop-opacity="0.993"/><stop offset="0.55" stop-color="#b9639f" stop-opacity="0.987"/><stop offset="0.6" stop-color="#ab68a6" stop-opacity="0.97"/><stop offset="0.65" stop-color="#9a6bac" stop-opacity="0.943"/><stop offset="0.7" stop-color="#896eb1" stop-opacity="0.912"/><stop offset="0.75" stop-color="#7570b5" stop-opacity="0.881"/><stop offset="0.8" stop-color="#6172b7" stop-opacity="0.853"/><stop offset="0.85" stop-color="#4b73b9" stop-opacity="0.833"/><stop offset="0.9" stop-color="#3374ba" stop-opacity="0.82"/><stop offset="0.95" stop-color="#1c74bb" stop-opacity="0.815"/><stop offset="1" stop-color="#0e74bb" stop-opacity="0.814"/></linearGradient>
<linearGradient id="g55" gradientUnits="userSpaceOnUse" x1="280" y1="0" x2="531" y2="0"><stop offset="0" stop-color="#fa3440" stop-opacity="0.814"/><stop offset="0.05" stop-color="#fa3541" stop-opacity="0.815"/><stop offset="0.1" stop-color="#fa3b47" stop-opacity="0.82"/><stop offset="0.15" stop-color="#fa4652" stop-opacity="0.833"/><stop offset="0.2" stop-color="#fa5360" stop-opacity="0.853"/><stop offset="0.25" stop-color="#fa626f" stop-opacity="0.881"/><stop offset="0.3" stop-color="#fa6f7e" stop-opacity="0.912"/><stop offset="0.35" stop-color="#fa7d8c" stop-opacity="0.943"/><stop offset="0.4" stop-color="#fb8999" stop-opacity="0.97"/><stop offset="0.45" stop-color="#fb94a6" stop-opacity="0.987"/><stop offset="0.5" stop-color="#fb9eb1" stop-opacity="0.993"/><stop offset="0.55" stop-color="#fba7bb" stop-opacity="0.987"/><stop offset="0.6" stop-color="#fbafc3" stop-opacity="0.97"/><stop offset="0.65" stop-color="#fcb5cb" stop-opacity="0.943"/><stop offset="0.7" stop-color="#fcbbd1" stop-opacity="0.912"/><stop offset="0.75" stop-color="#fcbfd5" stop-opacity="0.881"/><stop offset="0.8" stop-color="#fcc2d9" stop-opacity="0.853"/><stop offset="0.85" stop-color="#fcc4db" stop-opacity="0.833"/><stop offset="0.9" stop-color="#fcc5dc" stop-opacity="0.82"/><stop offset="0.95" stop-color="#fcc6dd" stop-opacity="0.815"/><stop offset="1" stop-color="#fcc6dd" stop-opacity="0.814"/></linearGradient>
<linearGradient id="g56" gradientUnits="userSpaceOnUse" x1="280" y1="0" x2="531" y2="0"><stop offset="0" stop-color="#fcc6dd" stop-opacity="0.814"/><stop offset="0.05" stop-color="#fcc6dd" stop-opacity="0.815"/><stop offset="0.1" stop-color="#fcc6dc" stop-opacity="0.82"/><stop offset="0.15" stop-color="#fcc7db" stop-opacity="0.833"/><stop offset="0.2" stop-color="#fcc9d9" stop-opacity="0.853"/><stop offset="0.25" stop-color="#fccbd5" stop-opacity="0.881"/><stop offset="0.3" stop-color="#fccdd0" stop-opacity="0.912"/><stop offset="0.35" stop-color="#fcd1ca" stop-opacity="0.943"/><stop offset="0.4" stop-color="#fbd4c3" stop-opacity="0.97"/><stop offset="0.45" stop-color="#fbd8ba" stop-opacity="0.987"/><stop offset="0.5" stop-color="#fbdbaf" stop-opacity="0.993"/><stop offset="0.55" stop-color="#fbdfa4" stop-opacity="0.987"/><stop offset="0.6" stop-color="#fbe297" stop-opacity="0.97"/><stop offset="0.65" stop-color="#fae588" stop-opacity="0.943"/><stop offset="0.7" stop-color="#fae879" stop-opacity="0.912"/><stop offset="0.75" stop-color="#faea68" stop-opacity="0.881"/><stop offset="0.8" stop-color="#faeb56" stop-opacity="0.853"/><stop offset="0.85" stop-color="#faec42" stop-opacity="0.833"/><stop offset="0.9" stop-color="#faed2d" stop-opacity="0.82"/><stop offset="0.95" stop-color="#faed17" stop-opacity="0.815"/><stop offset="1" stop-color="#faed00" stop-opacity="0.814"/></linearGradient>
<linearGradient id="g57" gradientUnits="userSpaceOnUse" x1="280" y1="0" x2="531" y2="0"><stop offset="0" stop-color="#fcc6dd" stop-opacity="0.814"/><stop offset="0.05" stop-color="#fcc6dd" stop-opacity="0.815"/><stop offset="0.1" stop-color="#fbc6dc" stop-opacity="0.82"/><stop offset="0.15" stop-color="#fac5db" stop-opacity="0.833"/><stop offset="0.2" stop-color="#f7c3d9" stop-opacity="0.853"/><stop offset="0.25" stop-color="#f3c1d6" stop-opacity="0.881"/><stop offset="0.3" stop-color="#edbfd1" stop-opacity="0.912"/><stop offset="0.35" stop-color="#e6bbcb" stop-opacity="0.943"/><stop offset="0.4" stop-color="#deb7c4" stop-opacity="0.97"/><stop offset="0.45" stop-color="#d4b3bc" stop-opacity="0.987"/><stop offset="0.5" stop-color="#c8aeb3" stop-opacity="0.993"/><stop offset="0.55" stop-color="#bba9a9" stop-opacity="0.987"/><stop offset="0.6" stop-color="#aca39d" stop-opacity="0.97"/><stop offset="0.65" stop-color="#9c9e91" stop-opacity="0.943"/><stop offset="0.7" stop-color="#8a9985" stop-opacity="0.912"/><stop offset="0.75" stop-color="#769478" stop-opacity="0.881"/><stop offset="0.8" stop-color="#62916c" stop-opacity="0.853"/><stop offset="0.85" stop-color="#4b8e62" stop-opacity="0.833"/><stop offset="0.9" stop-color="#348d5c" stop-opacity="0.82"/><stop offset="0.95" stop-color="#1a8c59" stop-opacity="0.815"/><stop offset="1" stop-color="#008c58" stop-opacity="0.814"/></linearGradient>
<linearGradient id="g58" gradientUnits="userSpaceOnUse" x1="280" y1="0" x2="531" y2="0"><stop offset="0" stop-color="#fcc6dd" stop-opacity="0.814"/><stop offset="0.05" stop-color="#fcc6dd" stop-opacity="0.815"/><stop offset="0.1" stop-color="#fcc6dc" stop-opacity="0.82"/><stop offset="0.15" stop-color="#fbc7db" stop-opacity="0.833"/><stop offset="0.2" stop-color="#fac8d9" stop-opacity="0.853"/><stop offset="0.25" stop-color="#f8c9d7" stop-opacity="0.881"/><stop offset="0.3" stop-color="#f6cbd3" stop-opacity="0.912"/><stop offset="0.35" stop-color="#f4cece" stop-opacity="0.943"/><stop offset="0.4" stop-color="#f0d0c8" stop-opacity="0.97"/><stop offset="0.45" stop-color="#edd3c1" stop-opacity="0.987"/><stop offset="0.5" stop-color="#e9d5b9" stop-opacity="0.993"/><stop offset="0.55" stop-color="#e5d8b1" stop-opacity="0.987"/><stop offset="0.6" stop-color="#e2dba8" stop-opacity="0.97"/><stop offset="0.65" stop-color="#dedd9f" stop-opacity="0.943"/><stop offset="0.7" stop-color="#dbdf96" stop-opacity="0.912"/><stop offset="0.75" stop-color="#d8e08e" stop-opacity="0.881"/><stop offset="0.8" stop-color="#d6e287" stop-opacity="0.853"/><stop offset="0.85" stop-color="#d4e282" stop-opacity="0.833"/><stop offset="0.9" stop-color="#d3e37f" stop-opacity="0.82"/><stop offset="0.95" stop-color="#d3e37d" stop-opacity="0.815"/><stop offset="1" stop-color="#d3e37d" stop-opacity="0.814"/></linearGradient>
<linearGradient id="g59" gradientUnits="userSpaceOnUse" x1="280" y1="0" x2="531" y2="0"><stop offset="0" stop-color="#fcc6dd" stop-opacity="0.814"/><stop offset="0.05" stop-color="#fcc6dd" stop-opacity="0.815"/><stop offset="0.1" stop-color="#fbc6dd" stop-opacity="0.82"/><stop offset="0.15" stop-color="#fac5dc" stop-opacity="0.833"/><stop offset="0.2" stop-color="#f7c3db" stop-opacity="0.853"/><stop offset="0.25" stop-color="#f3c0da" stop-opacity="0.881"/><stop offset="0.3" stop-color="#edbdd8" stop-opacity="0.912"/><stop offset="0.35" stop-color="#e6b9d6" stop-opacity="0.943"/><stop offset="0.4" stop-color="#deb4d3" stop-opacity="0.97"/><stop offset="0.45" stop-color="#d4aed0" stop-opacity="0.987"/><stop offset="0.5" stop-color="#c8a7cd" stop-opacity="0.993"/><stop offset="0.55" stop-color="#bba0ca" stop-opacity="0.987"/><stop offset="0.6" stop-color="#ac98c7" stop-opacity="0.97"/><stop offset="0.65" stop-color="#9c91c4" stop-opacity="0.943"/><stop offset="0.7" stop-color="#8a89c1" stop-opacity="0.912"/><stop offset="0.75" stop-color="#7682bf" stop-opacity="0.881"/><stop offset="0.8" stop-color="#627cbd" stop-opacity="0.853"/><stop offset="0.85" stop-color="#4b78bc" stop-opacity="0.833"/><stop offset="0.9" stop-color="#3475bb" stop-opacity="0.82"/><stop offset="0.95" stop-color="#1c74bb" stop-opacity="0.815"/><stop offset="1" stop-color="#0e74bb" stop-opacity="0.814"/></linearGradient>
<linearGradient id="g60" gradientUnits="userSpaceOnUse" x1="280" y1="0" x2="531" y2="0"><stop offset="0" stop-color="#fcc6dd" stop-opacity="0.814"/><stop offset="0.05" stop-color="#fcc6dd" stop-opacity="0.815"/><stop offset="0.1" stop-color="#fcc5dc" stop-opacity="0.82"/><stop offset="0.15" stop-color="#fcc4db" stop-opacity="0.833"/><stop offset="0.2" stop-color="#fcc2d9" stop-opacity="0.853"/><stop offset="0.25" stop-color="#fcbfd5" stop-opacity="0.881"/><stop offset="0.3" stop-color="#fcbbd1" stop-opacity="0.912"/><stop offset="0.35" stop-color="#fcb5cb" stop-opacity="0.943"/><stop offset="0.4" stop-color="#fbafc3" stop-opacity="0.97"/><stop offset="0.45" stop-color="#fba7bb" stop-opacity="0.987"/><stop offset="0.5" stop-color="#fb9eb1" stop-opacity="0.993"/><stop offset="0.55" stop-color="#fb94a6" stop-opacity="0.987"/><stop offset="0.6" stop-color="#fb8999" stop-opacity="0.97"/><stop offset="0.65" stop-color="#fa7d8c" stop-opacity="0.943"/><stop offset="0.7" stop-color="#fa6f7e" stop-opacity="0.912"/><stop offset="0.75" stop-color="#fa626f" stop-opacity="0.881"/><stop offset="0.8" stop-color="#fa5360" stop-opacity="0.853"/><stop offset="0.85" stop-color="#fa4652" stop-opacity="0.833"/><stop offset="0.9" stop-color="#fa3b47" stop-opacity="0.82"/><stop offset="0.95" stop-color="#fa3541" stop-opacity="0.815"/><stop offset="1" stop-color="#fa3440" stop-opacity="0.814"/></linearGradient>
<clipPath id="cp1"><path d="M280 16.8C380.4 16.8 430.6 162.8 531 162.8V251.3C430.6 251.3 380.4 105.3 280 105.3Z"/></clipPath>
</defs>
<rect width="550" height="429" fill="#fff"/>
<g opacity="1" fill-opacity="0.7">
<path d="M17.9 106.4C118.4 106.4 168.6 187.3 269.1 187.3V236.1C168.6 236.1 118.4 155.2 17.9 155.2Z" fill="url(#g1)"/>
<path d="M17.9 155.2C118.4 155.2 168.6 318 269.1 318V323.4C168.6 323.4 118.4 160.6 17.9 160.6Z" fill="url(#g2)"/>
<path d="M17.9 160.6C118.4 160.6 168.6 365 269.1 365V369C168.6 369 118.4 164.6 17.9 164.6Z" fill="url(#g3)"/>
<path d="M17.9 164.6C118.4 164.6 168.6 385.8 269.1 385.8V390.8C168.6 390.8 118.4 169.6 17.9 169.6Z" fill="url(#g4)"/>
<path d="M17.9 169.6C118.4 169.6 168.6 399 269.1 399V401C168.6 401 118.4 171.6 17.9 171.6Z" fill="url(#g5)"/>
<path d="M17.9 174.2C118.4 174.2 168.6 16.8 269.1 16.8V62.8C168.6 62.8 118.4 220.2 17.9 220.2Z" fill="url(#g6)"/>
<path d="M17.9 220.2C118.4 220.2 168.6 323.4 269.1 323.4V339.4C168.6 339.4 118.4 236.2 17.9 236.2Z" fill="url(#g7)"/>
<path d="M17.9 236.2C118.4 236.2 168.6 369 269.1 369V370.8C168.6 370.8 118.4 238 17.9 238Z" fill="url(#g8)"/>
<path d="M17.9 238C118.4 238 168.6 390.8 269.1 390.8V391.2C168.6 391.2 118.4 238.4 17.9 238.4Z" fill="url(#g9)"/>
<path d="M17.9 238.4C118.4 238.4 168.6 401 269.1 401V401.3C168.6 401.3 118.4 238.7 17.9 238.7Z" fill="url(#g10)"/>
<path d="M17.9 241.4C118.4 241.4 168.6 62.8 269.1 62.8V89.4C168.6 89.4 118.4 268 17.9 268Z" fill="url(#g11)"/>
<path d="M17.9 268C118.4 268 168.6 236.1 269.1 236.1V288.1C168.6 288.1 118.4 320 17.9 320Z" fill="url(#g12)"/>
<path d="M17.9 320C118.4 320 168.6 370.8 269.1 370.8V373.8C168.6 373.8 118.4 323 17.9 323Z" fill="url(#g13)"/>
<path d="M17.9 323C118.4 323 168.6 391.2 269.1 391.2V393.7C168.6 393.7 118.4 325.5 17.9 325.5Z" fill="url(#g14)"/>
<path d="M17.9 325.5C118.4 325.5 168.6 401.3 269.1 401.3V406.8C168.6 406.8 118.4 331 17.9 331Z" fill="url(#g15)"/>
<path d="M17.9 333.8C118.4 333.8 168.6 89.4 269.1 89.4V93.4C168.6 93.4 118.4 337.8 17.9 337.8Z" fill="url(#g16)"/>
<path d="M17.9 337.8C118.4 337.8 168.6 288.1 269.1 288.1V289C168.6 289 118.4 338.7 17.9 338.7Z" fill="url(#g17)"/>
<path d="M17.9 338.7C118.4 338.7 168.6 339.4 269.1 339.4V339.9C168.6 339.9 118.4 339.2 17.9 339.2Z" fill="url(#g18)"/>
<path d="M17.9 339.2C118.4 339.2 168.6 393.7 269.1 393.7V394.1C168.6 394.1 118.4 339.6 17.9 339.6Z" fill="url(#g19)"/>
<path d="M17.9 339.6C118.4 339.6 168.6 406.8 269.1 406.8V407.1C168.6 407.1 118.4 339.9 17.9 339.9Z" fill="url(#g20)"/>
<path d="M17.9 345.6C118.4 345.6 168.6 93.4 269.1 93.4V95.9C168.6 95.9 118.4 348.1 17.9 348.1Z" fill="url(#g21)"/>
<path d="M17.9 348.1C118.4 348.1 168.6 289 269.1 289V289.2C168.6 289.2 118.4 348.4 17.9 348.4Z" fill="url(#g22)"/>
<path d="M17.9 348.4C118.4 348.4 168.6 339.9 269.1 339.9V340.1C168.6 340.1 118.4 348.6 17.9 348.6Z" fill="url(#g23)"/>
<path d="M17.9 348.6C118.4 348.6 168.6 373.8 269.1 373.8V374C168.6 374 118.4 348.8 17.9 348.8Z" fill="url(#g24)"/>
<path d="M17.9 348.8C118.4 348.8 168.6 407.1 269.1 407.1V407.3C168.6 407.3 118.4 349 17.9 349Z" fill="url(#g25)"/>
<path d="M17.9 358.5C118.4 358.5 168.6 95.9 269.1 95.9V96.9C168.6 96.9 118.4 359.5 17.9 359.5Z" fill="url(#g26)"/>
<path d="M17.9 359.5C118.4 359.5 168.6 289.2 269.1 289.2V289.8C168.6 289.8 118.4 360 17.9 360Z" fill="url(#g27)"/>
<path d="M17.9 360C118.4 360 168.6 340.1 269.1 340.1V340.6C168.6 340.6 118.4 360.5 17.9 360.5Z" fill="url(#g28)"/>
<path d="M17.9 360.5C118.4 360.5 168.6 374 269.1 374V374.3C168.6 374.3 118.4 360.8 17.9 360.8Z" fill="url(#g29)"/>
<path d="M17.9 360.8C118.4 360.8 168.6 394.1 269.1 394.1V394.4C168.6 394.4 118.4 361.1 17.9 361.1Z" fill="url(#g30)"/>
<path class="m" clip-path="url(#cp0)" d="M17.9 174.2C118.4 174.2 168.6 16.8 269.1 16.8V62.8C168.6 62.8 118.4 220.2 17.9 220.2Z" fill="url(#g6)" fill-opacity="0.1"/>
<path d="M280 16.8C380.4 16.8 430.6 162.8 531 162.8V251.3C430.6 251.3 380.4 105.3 280 105.3Z" fill="url(#g31)"/>
<path d="M280 105.3C380.4 105.3 430.6 287.2 531 287.2V300.4C430.6 300.4 380.4 118.5 280 118.5Z" fill="url(#g32)"/>
<path d="M280 118.5C380.4 118.5 430.6 329.3 531 329.3V341.3C430.6 341.3 380.4 130.5 280 130.5Z" fill="url(#g33)"/>
<path d="M280 130.5C380.4 130.5 430.6 350 531 350V391.5C430.6 391.5 380.4 172 280 172Z" fill="url(#g34)"/>
<path d="M280 172C380.4 172 430.6 399.4 531 399.4V401.2C430.6 401.2 380.4 173.8 280 173.8Z" fill="url(#g35)"/>
<path d="M280 187.3C380.4 187.3 430.6 40 531 40V128.6C430.6 128.6 380.4 275.9 280 275.9Z" fill="url(#g36)"/>
<path d="M280 275.9C380.4 275.9 430.6 300.4 531 300.4V322.9C430.6 322.9 380.4 298.4 280 298.4Z" fill="url(#g37)"/>
<path d="M280 298.4C380.4 298.4 430.6 341.3 531 341.3V345.8C430.6 345.8 380.4 302.9 280 302.9Z" fill="url(#g38)"/>
<path d="M280 302.9C380.4 302.9 430.6 391.5 531 391.5V394.1C430.6 394.1 380.4 305.5 280 305.5Z" fill="url(#g39)"/>
<path d="M280 305.5C380.4 305.5 430.6 401.2 531 401.2V402.4C430.6 402.4 380.4 306.7 280 306.7Z" fill="url(#g40)"/>
<path d="M280 318C380.4 318 430.6 128.6 531 128.6V138.4C430.6 138.4 380.4 327.8 280 327.8Z" fill="url(#g41)"/>
<path d="M280 327.8C380.4 327.8 430.6 251.3 531 251.3V276.5C430.6 276.5 380.4 353 280 353Z" fill="url(#g42)"/>
<path d="M280 353C380.4 353 430.6 345.8 531 345.8V346.6C430.6 346.6 380.4 353.8 280 353.8Z" fill="url(#g43)"/>
<path d="M280 353.8C380.4 353.8 430.6 394.1 531 394.1V394.9C430.6 394.9 380.4 354.6 280 354.6Z" fill="url(#g44)"/>
<path d="M280 354.6C380.4 354.6 430.6 402.4 531 402.4V402.9C430.6 402.9 380.4 355.1 280 355.1Z" fill="url(#g45)"/>
<path d="M280 365C380.4 365 430.6 138.4 531 138.4V141.8C430.6 141.8 380.4 368.4 280 368.4Z" fill="url(#g46)"/>
<path d="M280 368.4C380.4 368.4 430.6 276.5 531 276.5V277.7C430.6 277.7 380.4 369.6 280 369.6Z" fill="url(#g47)"/>
<path d="M280 369.6C380.4 369.6 430.6 322.9 531 322.9V323.5C430.6 323.5 380.4 370.2 280 370.2Z" fill="url(#g48)"/>
<path d="M280 370.2C380.4 370.2 430.6 394.9 531 394.9V395.5C430.6 395.5 380.4 370.8 280 370.8Z" fill="url(#g49)"/>
<path d="M280 370.8C380.4 370.8 430.6 402.9 531 402.9V403.3C430.6 403.3 380.4 371.2 280 371.2Z" fill="url(#g50)"/>
<path d="M280 385.8C380.4 385.8 430.6 141.8 531 141.8V142.7C430.6 142.7 380.4 386.7 280 386.7Z" fill="url(#g51)"/>
<path d="M280 386.7C380.4 386.7 430.6 277.7 531 277.7V278C430.6 278 380.4 387 280 387Z" fill="url(#g52)"/>
<path d="M280 387C380.4 387 430.6 323.5 531 323.5V323.8C430.6 323.8 380.4 387.3 280 387.3Z" fill="url(#g53)"/>
<path d="M280 387.3C380.4 387.3 430.6 346.6 531 346.6V346.8C430.6 346.8 380.4 387.5 280 387.5Z" fill="url(#g54)"/>
<path d="M280 387.5C380.4 387.5 430.6 403.3 531 403.3V403.5C430.6 403.5 380.4 387.7 280 387.7Z" fill="url(#g55)"/>
<path d="M280 399C380.4 399 430.6 142.7 531 142.7V144.2C430.6 144.2 380.4 400.5 280 400.5Z" fill="url(#g56)"/>
<path d="M280 400.5C380.4 400.5 430.6 278 531 278V279.4C430.6 279.4 380.4 401.9 280 401.9Z" fill="url(#g57)"/>
<path d="M280 401.9C380.4 401.9 430.6 323.8 531 323.8V324.8C430.6 324.8 380.4 402.9 280 402.9Z" fill="url(#g58)"/>
<path d="M280 402.9C380.4 402.9 430.6 346.8 531 346.8V347.5C430.6 347.5 380.4 403.6 280 403.6Z" fill="url(#g59)"/>
<path d="M280 403.6C380.4 403.6 430.6 395.5 531 395.5V396.3C430.6 396.3 380.4 404.4 280 404.4Z" fill="url(#g60)"/>
<path class="m" clip-path="url(#cp1)" d="M280 187.3C380.4 187.3 430.6 40 531 40V128.6C430.6 128.6 380.4 275.9 280 275.9Z" fill="url(#g36)" fill-opacity="0.3"/>
</g>
<g>
<rect x="7.8" y="106.4" width="10.1" height="66.5" fill="#faed00"/>
<rect x="7.8" y="174.2" width="10.1" height="64.5" fill="#008c58"/>
<rect x="7.8" y="241.4" width="10.1" height="90.6" fill="#d3e37d"/>
<rect x="7.8" y="333.8" width="10.1" height="6.1" fill="#0e74bb"/>
<rect x="7.8" y="345.6" width="10.1" height="3.1" fill="#fa3440"/>
<rect x="7.8" y="358.5" width="10.1" height="2.8" fill="#fcc6dd"/>
<rect x="269.1" y="16.8" width="10.9" height="157" fill="#faed00"/>
<rect x="269.1" y="187.3" width="10.9" height="120.7" fill="#008c58"/>
<rect x="269.1" y="318" width="10.9" height="37" fill="#d3e37d"/>
<rect x="269.1" y="365" width="10.9" height="10.8" fill="#0e74bb"/>
<rect x="269.1" y="385.8" width="10.9" height="8.7" fill="#fa3440"/>
<rect x="269.1" y="399" width="10.9" height="8.6" fill="#fcc6dd"/>
<rect x="531" y="40" width="10.8" height="103" fill="#faed00"/>
<rect x="531" y="162.8" width="10.8" height="116.2" fill="#008c58"/>
<rect x="531" y="287.2" width="10.8" height="36.9" fill="#d3e37d"/>
<rect x="531" y="329.3" width="10.8" height="17.5" fill="#0e74bb"/>
<rect x="531" y="350" width="10.8" height="45.6" fill="#fa3440"/>
<rect x="531" y="399.4" width="10.8" height="5.2" fill="#fcc6dd"/>
</g>
<g>
<text x="14.1" y="102.9" text-anchor="middle">2000</text>
<text x="276.9" y="12.9" text-anchor="middle">2010</text>
<text x="536.6" y="35.5" text-anchor="middle">2020</text>
</g>
<g>
<rect x="42.7" y="415.2" width="18.6" height="8.6" fill="#faed00"/>
<text x="66.9" y="423.4" class="lg">Farmland</text>
<rect x="112" y="415.2" width="18.6" height="8.6" fill="#008c58"/>
<text x="135.6" y="423.4" class="lg">Forestland</text>
<rect x="184.2" y="415.2" width="18.6" height="8.6" fill="#d3e37d"/>
<text x="208.3" y="423.4" class="lg">Grassland</text>
<rect x="255.4" y="415.2" width="18.6" height="8.6" fill="#0e74bb"/>
<text x="279.7" y="423.4" class="lg">Water area</text>
<rect x="329.3" y="415.2" width="18.6" height="8.6" fill="#fa3440"/>
<text x="353.5" y="423.4" class="lg">Construction land</text>
<rect x="430.5" y="415.2" width="18.6" height="8.6" fill="#fcc6dd"/>
<text x="455.2" y="423.4" class="lg">Unused land</text>
</g>
</svg>
</body></html>
